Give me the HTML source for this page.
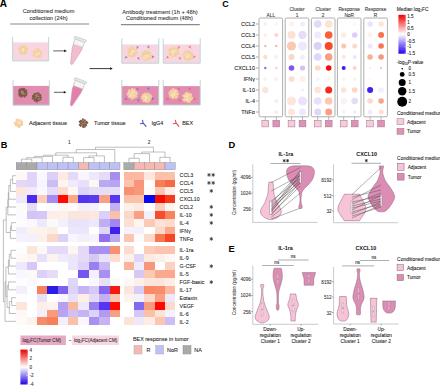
<!DOCTYPE html>
<html><head><meta charset="utf-8"><title>Figure</title>
<style>
html,body{margin:0;padding:0;background:#fff;width:440px;height:386px;overflow:hidden;}
svg{display:block;font-family:"Liberation Sans", sans-serif;}
</style></head><body>
<svg width="440" height="386" viewBox="0 0 440 386">
<text x="-0.30" y="6.60" font-size="10.0" text-anchor="start" font-weight="bold" fill="#000" stroke="#000" stroke-width="0" >A</text>
<text x="48.60" y="13.33" font-size="5.65" text-anchor="middle" font-weight="normal" fill="#333" stroke="#333" stroke-width="0.08" >Conditioned medium</text>
<text x="48.60" y="19.63" font-size="5.65" text-anchor="middle" font-weight="normal" fill="#333" stroke="#333" stroke-width="0.08" >collection (24h)</text>
<line x1="10.20" y1="24.00" x2="89.10" y2="24.00" stroke="#8a8a8a" stroke-width="1.1"/>
<text x="160.00" y="13.95" font-size="5.7" text-anchor="middle" font-weight="normal" fill="#333" stroke="#333" stroke-width="0.08" >Antibody treatment (1h + 48h)</text>
<text x="159.50" y="20.15" font-size="5.7" text-anchor="middle" font-weight="normal" fill="#333" stroke="#333" stroke-width="0.08" >Conditioned medium (48h)</text>
<line x1="120.90" y1="24.60" x2="199.80" y2="24.60" stroke="#8a8a8a" stroke-width="1.1"/>
<rect x="12.60" y="42.40" width="36.00" height="18.50" fill="#f8d6e1" stroke="none" stroke-width="0" />
<path d="M12.60,36.90 L12.60,60.90 L48.60,60.90 L48.60,36.90" fill="none" stroke="#b9d3d3" stroke-width="0.9"/>
<circle cx="23.20" cy="50.00" r="3.68" fill="#f4cfa0"/>
<circle cx="27.23" cy="49.43" r="1.15" fill="#f4cfa0"/>
<circle cx="26.31" cy="52.29" r="1.15" fill="#f4cfa0"/>
<circle cx="24.79" cy="53.92" r="1.15" fill="#f4cfa0"/>
<circle cx="22.12" cy="53.60" r="1.15" fill="#f4cfa0"/>
<circle cx="20.79" cy="53.36" r="1.15" fill="#f4cfa0"/>
<circle cx="19.73" cy="51.11" r="1.15" fill="#f4cfa0"/>
<circle cx="19.03" cy="48.96" r="1.15" fill="#f4cfa0"/>
<circle cx="20.52" cy="47.20" r="1.15" fill="#f4cfa0"/>
<circle cx="22.70" cy="46.19" r="1.15" fill="#f4cfa0"/>
<circle cx="24.69" cy="46.09" r="1.15" fill="#f4cfa0"/>
<circle cx="26.17" cy="47.67" r="1.15" fill="#f4cfa0"/>
<circle cx="22.95" cy="50.77" r="0.78" fill="#fbe6c8" opacity="0.8"/>
<circle cx="23.31" cy="49.30" r="0.78" fill="#fbe6c8" opacity="0.8"/>
<circle cx="23.33" cy="48.78" r="0.78" fill="#fbe6c8" opacity="0.8"/>
<circle cx="22.95" cy="49.50" r="0.78" fill="#fbe6c8" opacity="0.8"/>
<circle cx="22.68" cy="51.57" r="0.78" fill="#fbe6c8" opacity="0.8"/>
<circle cx="23.56" cy="50.72" r="0.78" fill="#fbe6c8" opacity="0.8"/>
<circle cx="23.06" cy="49.91" r="0.78" fill="#fbe6c8" opacity="0.8"/>
<circle cx="22.84" cy="49.92" r="0.78" fill="#fbe6c8" opacity="0.8"/>
<circle cx="22.97" cy="48.57" r="0.78" fill="#fbe6c8" opacity="0.8"/>
<circle cx="37.40" cy="53.60" r="3.68" fill="#f4cfa0"/>
<circle cx="41.68" cy="53.37" r="1.15" fill="#f4cfa0"/>
<circle cx="40.44" cy="56.15" r="1.15" fill="#f4cfa0"/>
<circle cx="39.12" cy="57.18" r="1.15" fill="#f4cfa0"/>
<circle cx="37.42" cy="57.32" r="1.15" fill="#f4cfa0"/>
<circle cx="34.59" cy="56.38" r="1.15" fill="#f4cfa0"/>
<circle cx="33.53" cy="55.17" r="1.15" fill="#f4cfa0"/>
<circle cx="33.76" cy="51.97" r="1.15" fill="#f4cfa0"/>
<circle cx="35.40" cy="50.50" r="1.15" fill="#f4cfa0"/>
<circle cx="37.35" cy="49.41" r="1.15" fill="#f4cfa0"/>
<circle cx="38.66" cy="49.65" r="1.15" fill="#f4cfa0"/>
<circle cx="41.12" cy="51.73" r="1.15" fill="#f4cfa0"/>
<circle cx="37.72" cy="54.64" r="0.78" fill="#fbe6c8" opacity="0.8"/>
<circle cx="37.01" cy="55.84" r="0.78" fill="#fbe6c8" opacity="0.8"/>
<circle cx="39.48" cy="54.02" r="0.78" fill="#fbe6c8" opacity="0.8"/>
<circle cx="36.10" cy="53.37" r="0.78" fill="#fbe6c8" opacity="0.8"/>
<circle cx="36.25" cy="50.75" r="0.78" fill="#fbe6c8" opacity="0.8"/>
<circle cx="39.24" cy="53.07" r="0.78" fill="#fbe6c8" opacity="0.8"/>
<circle cx="38.02" cy="52.76" r="0.78" fill="#fbe6c8" opacity="0.8"/>
<circle cx="37.83" cy="53.47" r="0.78" fill="#fbe6c8" opacity="0.8"/>
<circle cx="35.69" cy="55.13" r="0.78" fill="#fbe6c8" opacity="0.8"/>
<line x1="53.20" y1="50.90" x2="64.80" y2="50.90" stroke="#222" stroke-width="0.7"/>
<path d="M66.80,50.90 L64.20,49.60 L64.20,52.20Z" fill="#111"/>
<g transform="translate(76.30,50.40) rotate(19.5) scale(1.1)">
<path d="M-4.6,-8 L4.6,-8 L4.3,-1 L1.0,12.8 Q0,14.4 -1.0,12.8 L-4.3,-1 Z" fill="#f2bdd0" stroke="#c79aae" stroke-width="0.45"/>
<path d="M-4.6,-9.6 L4.6,-9.6 L4.5,-4.6 L-4.5,-4.6 Z" fill="#f4f6f6" stroke="#c4caca" stroke-width="0.45"/>
<rect x="-5.6" y="-11.8" width="11.2" height="2.3" rx="0.5" fill="#e4e8e9" stroke="#b5bcbe" stroke-width="0.45"/>
</g>
<rect x="13.00" y="85.90" width="36.30" height="19.30" fill="#e08db0" stroke="none" stroke-width="0" />
<path d="M13.00,80.20 L13.00,105.20 L49.30,105.20 L49.30,80.20" fill="none" stroke="#b9d3d3" stroke-width="0.9"/>
<circle cx="22.70" cy="92.70" r="3.68" fill="#7e5846"/>
<circle cx="26.40" cy="92.98" r="1.15" fill="#7e5846"/>
<circle cx="26.21" cy="95.03" r="1.15" fill="#7e5846"/>
<circle cx="24.65" cy="96.43" r="1.15" fill="#7e5846"/>
<circle cx="21.56" cy="96.58" r="1.15" fill="#7e5846"/>
<circle cx="19.66" cy="95.69" r="1.15" fill="#7e5846"/>
<circle cx="19.17" cy="93.75" r="1.15" fill="#7e5846"/>
<circle cx="19.16" cy="91.10" r="1.15" fill="#7e5846"/>
<circle cx="19.90" cy="89.69" r="1.15" fill="#7e5846"/>
<circle cx="21.81" cy="88.96" r="1.15" fill="#7e5846"/>
<circle cx="24.12" cy="88.88" r="1.15" fill="#7e5846"/>
<circle cx="26.21" cy="90.58" r="1.15" fill="#7e5846"/>
<circle cx="21.88" cy="91.28" r="0.78" fill="#b8947c" opacity="0.8"/>
<circle cx="22.90" cy="92.71" r="0.78" fill="#b8947c" opacity="0.8"/>
<circle cx="21.90" cy="93.38" r="0.78" fill="#b8947c" opacity="0.8"/>
<circle cx="23.46" cy="94.11" r="0.78" fill="#b8947c" opacity="0.8"/>
<circle cx="21.88" cy="91.27" r="0.78" fill="#b8947c" opacity="0.8"/>
<circle cx="23.07" cy="92.73" r="0.78" fill="#b8947c" opacity="0.8"/>
<circle cx="22.89" cy="91.91" r="0.78" fill="#b8947c" opacity="0.8"/>
<circle cx="24.92" cy="94.02" r="0.78" fill="#b8947c" opacity="0.8"/>
<circle cx="21.30" cy="91.82" r="0.78" fill="#b8947c" opacity="0.8"/>
<circle cx="36.80" cy="97.30" r="3.68" fill="#7e5846"/>
<circle cx="40.85" cy="97.42" r="1.15" fill="#7e5846"/>
<circle cx="40.39" cy="99.45" r="1.15" fill="#7e5846"/>
<circle cx="38.52" cy="100.47" r="1.15" fill="#7e5846"/>
<circle cx="36.72" cy="101.47" r="1.15" fill="#7e5846"/>
<circle cx="34.81" cy="100.38" r="1.15" fill="#7e5846"/>
<circle cx="32.91" cy="98.47" r="1.15" fill="#7e5846"/>
<circle cx="33.01" cy="96.26" r="1.15" fill="#7e5846"/>
<circle cx="34.38" cy="94.28" r="1.15" fill="#7e5846"/>
<circle cx="36.16" cy="93.77" r="1.15" fill="#7e5846"/>
<circle cx="38.39" cy="93.32" r="1.15" fill="#7e5846"/>
<circle cx="40.24" cy="95.18" r="1.15" fill="#7e5846"/>
<circle cx="35.50" cy="98.02" r="0.78" fill="#b8947c" opacity="0.8"/>
<circle cx="36.71" cy="96.84" r="0.78" fill="#b8947c" opacity="0.8"/>
<circle cx="39.65" cy="98.54" r="0.78" fill="#b8947c" opacity="0.8"/>
<circle cx="37.51" cy="94.91" r="0.78" fill="#b8947c" opacity="0.8"/>
<circle cx="38.28" cy="96.71" r="0.78" fill="#b8947c" opacity="0.8"/>
<circle cx="35.70" cy="95.48" r="0.78" fill="#b8947c" opacity="0.8"/>
<circle cx="38.57" cy="96.45" r="0.78" fill="#b8947c" opacity="0.8"/>
<circle cx="36.47" cy="94.93" r="0.78" fill="#b8947c" opacity="0.8"/>
<circle cx="38.41" cy="99.33" r="0.78" fill="#b8947c" opacity="0.8"/>
<line x1="53.90" y1="92.30" x2="64.40" y2="92.30" stroke="#222" stroke-width="0.7"/>
<path d="M66.40,92.30 L63.80,91.00 L63.80,93.60Z" fill="#111"/>
<g transform="translate(76.30,91.90) rotate(20.5) scale(1.1)">
<path d="M-4.6,-8 L4.6,-8 L4.3,-1 L1.0,12.8 Q0,14.4 -1.0,12.8 L-4.3,-1 Z" fill="#e27fab" stroke="#c79aae" stroke-width="0.45"/>
<path d="M-4.6,-9.6 L4.6,-9.6 L4.5,-4.6 L-4.5,-4.6 Z" fill="#f4f6f6" stroke="#c4caca" stroke-width="0.45"/>
<rect x="-5.6" y="-11.8" width="11.2" height="2.3" rx="0.5" fill="#e4e8e9" stroke="#b5bcbe" stroke-width="0.45"/>
</g>
<line x1="89.50" y1="68.60" x2="110.70" y2="68.60" stroke="#222" stroke-width="0.9"/>
<path d="M112.70,68.60 L110.10,67.30 L110.10,69.90Z" fill="#111"/>
<rect x="121.80" y="44.40" width="37.00" height="18.80" fill="#f8d6e1" stroke="none" stroke-width="0" />
<path d="M121.80,38.20 L121.80,63.20 L158.80,63.20 L158.80,38.20" fill="none" stroke="#b9d3d3" stroke-width="0.9"/>
<circle cx="132.30" cy="52.00" r="4.00" fill="#f4cfa0"/>
<circle cx="136.44" cy="52.38" r="1.25" fill="#f4cfa0"/>
<circle cx="135.51" cy="54.28" r="1.25" fill="#f4cfa0"/>
<circle cx="134.25" cy="55.97" r="1.25" fill="#f4cfa0"/>
<circle cx="131.39" cy="56.48" r="1.25" fill="#f4cfa0"/>
<circle cx="129.43" cy="55.27" r="1.25" fill="#f4cfa0"/>
<circle cx="128.39" cy="53.53" r="1.25" fill="#f4cfa0"/>
<circle cx="128.44" cy="50.26" r="1.25" fill="#f4cfa0"/>
<circle cx="129.44" cy="49.01" r="1.25" fill="#f4cfa0"/>
<circle cx="131.59" cy="47.36" r="1.25" fill="#f4cfa0"/>
<circle cx="133.63" cy="47.63" r="1.25" fill="#f4cfa0"/>
<circle cx="135.96" cy="50.20" r="1.25" fill="#f4cfa0"/>
<circle cx="131.24" cy="53.46" r="0.85" fill="#fbe6c8" opacity="0.8"/>
<circle cx="131.46" cy="54.36" r="0.85" fill="#fbe6c8" opacity="0.8"/>
<circle cx="133.34" cy="52.20" r="0.85" fill="#fbe6c8" opacity="0.8"/>
<circle cx="132.55" cy="51.61" r="0.85" fill="#fbe6c8" opacity="0.8"/>
<circle cx="133.28" cy="51.26" r="0.85" fill="#fbe6c8" opacity="0.8"/>
<circle cx="132.59" cy="50.87" r="0.85" fill="#fbe6c8" opacity="0.8"/>
<circle cx="132.29" cy="52.02" r="0.85" fill="#fbe6c8" opacity="0.8"/>
<circle cx="130.27" cy="54.24" r="0.85" fill="#fbe6c8" opacity="0.8"/>
<circle cx="135.39" cy="51.03" r="0.85" fill="#fbe6c8" opacity="0.8"/>
<circle cx="146.40" cy="55.70" r="4.00" fill="#f4cfa0"/>
<circle cx="151.00" cy="56.33" r="1.25" fill="#f4cfa0"/>
<circle cx="149.76" cy="57.84" r="1.25" fill="#f4cfa0"/>
<circle cx="147.86" cy="59.39" r="1.25" fill="#f4cfa0"/>
<circle cx="145.49" cy="59.87" r="1.25" fill="#f4cfa0"/>
<circle cx="143.33" cy="58.38" r="1.25" fill="#f4cfa0"/>
<circle cx="142.07" cy="56.45" r="1.25" fill="#f4cfa0"/>
<circle cx="142.65" cy="54.12" r="1.25" fill="#f4cfa0"/>
<circle cx="143.26" cy="53.00" r="1.25" fill="#f4cfa0"/>
<circle cx="145.54" cy="51.18" r="1.25" fill="#f4cfa0"/>
<circle cx="148.19" cy="51.39" r="1.25" fill="#f4cfa0"/>
<circle cx="150.02" cy="53.34" r="1.25" fill="#f4cfa0"/>
<circle cx="149.09" cy="55.01" r="0.85" fill="#fbe6c8" opacity="0.8"/>
<circle cx="143.60" cy="57.51" r="0.85" fill="#fbe6c8" opacity="0.8"/>
<circle cx="144.17" cy="58.09" r="0.85" fill="#fbe6c8" opacity="0.8"/>
<circle cx="148.54" cy="56.57" r="0.85" fill="#fbe6c8" opacity="0.8"/>
<circle cx="146.31" cy="55.80" r="0.85" fill="#fbe6c8" opacity="0.8"/>
<circle cx="145.47" cy="55.57" r="0.85" fill="#fbe6c8" opacity="0.8"/>
<circle cx="147.26" cy="55.82" r="0.85" fill="#fbe6c8" opacity="0.8"/>
<circle cx="146.22" cy="57.40" r="0.85" fill="#fbe6c8" opacity="0.8"/>
<circle cx="145.90" cy="58.39" r="0.85" fill="#fbe6c8" opacity="0.8"/>
<g transform="translate(137.30,47.50) rotate(20)"><path d="M0,1.0 L0,0 L-0.9,-0.9 M0,0 L0.9,-0.9" stroke="#6f6cc0" stroke-width="0.75" fill="none" stroke-linecap="round" opacity="0.85"/></g>
<g transform="translate(148.60,47.10) rotate(-30)"><path d="M0,1.0 L0,0 L-0.9,-0.9 M0,0 L0.9,-0.9" stroke="#6f6cc0" stroke-width="0.75" fill="none" stroke-linecap="round" opacity="0.85"/></g>
<g transform="translate(125.90,57.50) rotate(40)"><path d="M0,1.0 L0,0 L-0.9,-0.9 M0,0 L0.9,-0.9" stroke="#6f6cc0" stroke-width="0.75" fill="none" stroke-linecap="round" opacity="0.85"/></g>
<g transform="translate(138.60,58.50) rotate(-20)"><path d="M0,1.0 L0,0 L-0.9,-0.9 M0,0 L0.9,-0.9" stroke="#6f6cc0" stroke-width="0.75" fill="none" stroke-linecap="round" opacity="0.85"/></g>
<g transform="translate(152.70,57.10) rotate(30)"><path d="M0,1.0 L0,0 L-0.9,-0.9 M0,0 L0.9,-0.9" stroke="#6f6cc0" stroke-width="0.75" fill="none" stroke-linecap="round" opacity="0.85"/></g>
<rect x="163.20" y="44.40" width="37.00" height="18.80" fill="#f8d6e1" stroke="none" stroke-width="0" />
<path d="M163.20,38.20 L163.20,63.20 L200.20,63.20 L200.20,38.20" fill="none" stroke="#b9d3d3" stroke-width="0.9"/>
<circle cx="173.70" cy="52.00" r="4.00" fill="#f4cfa0"/>
<circle cx="178.36" cy="52.31" r="1.25" fill="#f4cfa0"/>
<circle cx="177.91" cy="53.91" r="1.25" fill="#f4cfa0"/>
<circle cx="175.41" cy="55.79" r="1.25" fill="#f4cfa0"/>
<circle cx="172.94" cy="56.16" r="1.25" fill="#f4cfa0"/>
<circle cx="170.38" cy="55.33" r="1.25" fill="#f4cfa0"/>
<circle cx="169.59" cy="53.76" r="1.25" fill="#f4cfa0"/>
<circle cx="169.33" cy="50.21" r="1.25" fill="#f4cfa0"/>
<circle cx="170.31" cy="48.97" r="1.25" fill="#f4cfa0"/>
<circle cx="173.12" cy="47.39" r="1.25" fill="#f4cfa0"/>
<circle cx="175.95" cy="48.16" r="1.25" fill="#f4cfa0"/>
<circle cx="177.61" cy="49.51" r="1.25" fill="#f4cfa0"/>
<circle cx="175.21" cy="50.28" r="0.85" fill="#fbe6c8" opacity="0.8"/>
<circle cx="173.24" cy="52.16" r="0.85" fill="#fbe6c8" opacity="0.8"/>
<circle cx="171.97" cy="51.69" r="0.85" fill="#fbe6c8" opacity="0.8"/>
<circle cx="172.98" cy="54.57" r="0.85" fill="#fbe6c8" opacity="0.8"/>
<circle cx="172.71" cy="49.92" r="0.85" fill="#fbe6c8" opacity="0.8"/>
<circle cx="172.85" cy="52.97" r="0.85" fill="#fbe6c8" opacity="0.8"/>
<circle cx="175.51" cy="51.24" r="0.85" fill="#fbe6c8" opacity="0.8"/>
<circle cx="173.73" cy="52.08" r="0.85" fill="#fbe6c8" opacity="0.8"/>
<circle cx="172.66" cy="52.25" r="0.85" fill="#fbe6c8" opacity="0.8"/>
<circle cx="187.80" cy="55.70" r="4.00" fill="#f4cfa0"/>
<circle cx="192.07" cy="55.17" r="1.25" fill="#f4cfa0"/>
<circle cx="192.03" cy="57.76" r="1.25" fill="#f4cfa0"/>
<circle cx="189.37" cy="59.28" r="1.25" fill="#f4cfa0"/>
<circle cx="187.55" cy="59.89" r="1.25" fill="#f4cfa0"/>
<circle cx="185.37" cy="58.86" r="1.25" fill="#f4cfa0"/>
<circle cx="184.07" cy="56.88" r="1.25" fill="#f4cfa0"/>
<circle cx="183.43" cy="54.42" r="1.25" fill="#f4cfa0"/>
<circle cx="185.02" cy="52.57" r="1.25" fill="#f4cfa0"/>
<circle cx="187.20" cy="51.06" r="1.25" fill="#f4cfa0"/>
<circle cx="189.31" cy="52.03" r="1.25" fill="#f4cfa0"/>
<circle cx="191.54" cy="53.19" r="1.25" fill="#f4cfa0"/>
<circle cx="185.12" cy="54.53" r="0.85" fill="#fbe6c8" opacity="0.8"/>
<circle cx="186.94" cy="53.46" r="0.85" fill="#fbe6c8" opacity="0.8"/>
<circle cx="187.30" cy="57.55" r="0.85" fill="#fbe6c8" opacity="0.8"/>
<circle cx="189.10" cy="54.66" r="0.85" fill="#fbe6c8" opacity="0.8"/>
<circle cx="187.90" cy="55.78" r="0.85" fill="#fbe6c8" opacity="0.8"/>
<circle cx="189.11" cy="56.65" r="0.85" fill="#fbe6c8" opacity="0.8"/>
<circle cx="186.94" cy="56.10" r="0.85" fill="#fbe6c8" opacity="0.8"/>
<circle cx="186.39" cy="57.16" r="0.85" fill="#fbe6c8" opacity="0.8"/>
<circle cx="189.81" cy="56.03" r="0.85" fill="#fbe6c8" opacity="0.8"/>
<g transform="translate(178.70,47.50) rotate(20)"><path d="M0,1.0 L0,0 L-0.9,-0.9 M0,0 L0.9,-0.9" stroke="#e0606e" stroke-width="0.75" fill="none" stroke-linecap="round" opacity="0.85"/></g>
<g transform="translate(190.00,47.10) rotate(-30)"><path d="M0,1.0 L0,0 L-0.9,-0.9 M0,0 L0.9,-0.9" stroke="#e0606e" stroke-width="0.75" fill="none" stroke-linecap="round" opacity="0.85"/></g>
<g transform="translate(167.30,57.50) rotate(40)"><path d="M0,1.0 L0,0 L-0.9,-0.9 M0,0 L0.9,-0.9" stroke="#e0606e" stroke-width="0.75" fill="none" stroke-linecap="round" opacity="0.85"/></g>
<g transform="translate(180.00,58.50) rotate(-20)"><path d="M0,1.0 L0,0 L-0.9,-0.9 M0,0 L0.9,-0.9" stroke="#e0606e" stroke-width="0.75" fill="none" stroke-linecap="round" opacity="0.85"/></g>
<g transform="translate(194.10,57.10) rotate(30)"><path d="M0,1.0 L0,0 L-0.9,-0.9 M0,0 L0.9,-0.9" stroke="#e0606e" stroke-width="0.75" fill="none" stroke-linecap="round" opacity="0.85"/></g>
<rect x="121.80" y="86.10" width="37.00" height="18.90" fill="#e08db0" stroke="none" stroke-width="0" />
<path d="M121.80,80.00 L121.80,105.00 L158.80,105.00 L158.80,80.00" fill="none" stroke="#b9d3d3" stroke-width="0.9"/>
<circle cx="132.30" cy="93.80" r="4.00" fill="#f4cfa0"/>
<circle cx="136.79" cy="93.63" r="1.25" fill="#f4cfa0"/>
<circle cx="136.09" cy="96.26" r="1.25" fill="#f4cfa0"/>
<circle cx="134.11" cy="97.56" r="1.25" fill="#f4cfa0"/>
<circle cx="131.90" cy="98.52" r="1.25" fill="#f4cfa0"/>
<circle cx="129.27" cy="96.71" r="1.25" fill="#f4cfa0"/>
<circle cx="127.88" cy="94.42" r="1.25" fill="#f4cfa0"/>
<circle cx="128.48" cy="92.91" r="1.25" fill="#f4cfa0"/>
<circle cx="129.05" cy="90.47" r="1.25" fill="#f4cfa0"/>
<circle cx="132.16" cy="89.31" r="1.25" fill="#f4cfa0"/>
<circle cx="134.30" cy="89.79" r="1.25" fill="#f4cfa0"/>
<circle cx="136.17" cy="91.68" r="1.25" fill="#f4cfa0"/>
<circle cx="132.06" cy="94.16" r="0.85" fill="#fbe6c8" opacity="0.8"/>
<circle cx="130.97" cy="94.84" r="0.85" fill="#fbe6c8" opacity="0.8"/>
<circle cx="133.96" cy="95.12" r="0.85" fill="#fbe6c8" opacity="0.8"/>
<circle cx="133.25" cy="91.29" r="0.85" fill="#fbe6c8" opacity="0.8"/>
<circle cx="130.62" cy="96.87" r="0.85" fill="#fbe6c8" opacity="0.8"/>
<circle cx="130.46" cy="95.80" r="0.85" fill="#fbe6c8" opacity="0.8"/>
<circle cx="129.28" cy="92.45" r="0.85" fill="#fbe6c8" opacity="0.8"/>
<circle cx="133.92" cy="92.12" r="0.85" fill="#fbe6c8" opacity="0.8"/>
<circle cx="132.59" cy="92.26" r="0.85" fill="#fbe6c8" opacity="0.8"/>
<circle cx="146.40" cy="97.50" r="4.00" fill="#f4cfa0"/>
<circle cx="151.11" cy="97.22" r="1.25" fill="#f4cfa0"/>
<circle cx="149.67" cy="99.63" r="1.25" fill="#f4cfa0"/>
<circle cx="148.31" cy="101.74" r="1.25" fill="#f4cfa0"/>
<circle cx="145.98" cy="101.56" r="1.25" fill="#f4cfa0"/>
<circle cx="143.68" cy="101.10" r="1.25" fill="#f4cfa0"/>
<circle cx="142.22" cy="98.52" r="1.25" fill="#f4cfa0"/>
<circle cx="142.25" cy="96.68" r="1.25" fill="#f4cfa0"/>
<circle cx="143.40" cy="94.65" r="1.25" fill="#f4cfa0"/>
<circle cx="145.32" cy="93.67" r="1.25" fill="#f4cfa0"/>
<circle cx="147.81" cy="93.81" r="1.25" fill="#f4cfa0"/>
<circle cx="150.28" cy="95.36" r="1.25" fill="#f4cfa0"/>
<circle cx="146.38" cy="97.51" r="0.85" fill="#fbe6c8" opacity="0.8"/>
<circle cx="145.70" cy="99.43" r="0.85" fill="#fbe6c8" opacity="0.8"/>
<circle cx="146.17" cy="97.55" r="0.85" fill="#fbe6c8" opacity="0.8"/>
<circle cx="146.19" cy="96.57" r="0.85" fill="#fbe6c8" opacity="0.8"/>
<circle cx="145.31" cy="100.03" r="0.85" fill="#fbe6c8" opacity="0.8"/>
<circle cx="146.50" cy="97.21" r="0.85" fill="#fbe6c8" opacity="0.8"/>
<circle cx="145.72" cy="97.73" r="0.85" fill="#fbe6c8" opacity="0.8"/>
<circle cx="144.47" cy="96.13" r="0.85" fill="#fbe6c8" opacity="0.8"/>
<circle cx="143.46" cy="96.46" r="0.85" fill="#fbe6c8" opacity="0.8"/>
<g transform="translate(137.30,89.30) rotate(20)"><path d="M0,1.0 L0,0 L-0.9,-0.9 M0,0 L0.9,-0.9" stroke="#6f6cc0" stroke-width="0.75" fill="none" stroke-linecap="round" opacity="0.85"/></g>
<g transform="translate(148.60,88.90) rotate(-30)"><path d="M0,1.0 L0,0 L-0.9,-0.9 M0,0 L0.9,-0.9" stroke="#6f6cc0" stroke-width="0.75" fill="none" stroke-linecap="round" opacity="0.85"/></g>
<g transform="translate(125.90,99.30) rotate(40)"><path d="M0,1.0 L0,0 L-0.9,-0.9 M0,0 L0.9,-0.9" stroke="#6f6cc0" stroke-width="0.75" fill="none" stroke-linecap="round" opacity="0.85"/></g>
<g transform="translate(138.60,100.30) rotate(-20)"><path d="M0,1.0 L0,0 L-0.9,-0.9 M0,0 L0.9,-0.9" stroke="#6f6cc0" stroke-width="0.75" fill="none" stroke-linecap="round" opacity="0.85"/></g>
<g transform="translate(152.70,98.90) rotate(30)"><path d="M0,1.0 L0,0 L-0.9,-0.9 M0,0 L0.9,-0.9" stroke="#6f6cc0" stroke-width="0.75" fill="none" stroke-linecap="round" opacity="0.85"/></g>
<rect x="163.20" y="86.10" width="37.00" height="18.90" fill="#e08db0" stroke="none" stroke-width="0" />
<path d="M163.20,80.00 L163.20,105.00 L200.20,105.00 L200.20,80.00" fill="none" stroke="#b9d3d3" stroke-width="0.9"/>
<circle cx="173.70" cy="93.80" r="4.00" fill="#f4cfa0"/>
<circle cx="177.80" cy="94.01" r="1.25" fill="#f4cfa0"/>
<circle cx="176.99" cy="96.43" r="1.25" fill="#f4cfa0"/>
<circle cx="175.79" cy="97.76" r="1.25" fill="#f4cfa0"/>
<circle cx="172.67" cy="97.96" r="1.25" fill="#f4cfa0"/>
<circle cx="170.60" cy="96.51" r="1.25" fill="#f4cfa0"/>
<circle cx="169.80" cy="94.59" r="1.25" fill="#f4cfa0"/>
<circle cx="169.62" cy="92.58" r="1.25" fill="#f4cfa0"/>
<circle cx="171.14" cy="90.76" r="1.25" fill="#f4cfa0"/>
<circle cx="173.32" cy="89.20" r="1.25" fill="#f4cfa0"/>
<circle cx="175.31" cy="90.13" r="1.25" fill="#f4cfa0"/>
<circle cx="177.11" cy="91.03" r="1.25" fill="#f4cfa0"/>
<circle cx="174.41" cy="94.47" r="0.85" fill="#fbe6c8" opacity="0.8"/>
<circle cx="174.22" cy="93.02" r="0.85" fill="#fbe6c8" opacity="0.8"/>
<circle cx="172.85" cy="93.81" r="0.85" fill="#fbe6c8" opacity="0.8"/>
<circle cx="172.01" cy="95.00" r="0.85" fill="#fbe6c8" opacity="0.8"/>
<circle cx="171.88" cy="95.22" r="0.85" fill="#fbe6c8" opacity="0.8"/>
<circle cx="173.90" cy="94.53" r="0.85" fill="#fbe6c8" opacity="0.8"/>
<circle cx="174.04" cy="94.33" r="0.85" fill="#fbe6c8" opacity="0.8"/>
<circle cx="175.32" cy="91.99" r="0.85" fill="#fbe6c8" opacity="0.8"/>
<circle cx="172.75" cy="97.00" r="0.85" fill="#fbe6c8" opacity="0.8"/>
<circle cx="187.80" cy="97.50" r="4.00" fill="#f4cfa0"/>
<circle cx="192.43" cy="97.96" r="1.25" fill="#f4cfa0"/>
<circle cx="191.16" cy="99.53" r="1.25" fill="#f4cfa0"/>
<circle cx="189.37" cy="101.92" r="1.25" fill="#f4cfa0"/>
<circle cx="187.72" cy="101.46" r="1.25" fill="#f4cfa0"/>
<circle cx="184.46" cy="100.76" r="1.25" fill="#f4cfa0"/>
<circle cx="183.50" cy="99.42" r="1.25" fill="#f4cfa0"/>
<circle cx="183.36" cy="95.85" r="1.25" fill="#f4cfa0"/>
<circle cx="185.44" cy="94.12" r="1.25" fill="#f4cfa0"/>
<circle cx="186.90" cy="93.04" r="1.25" fill="#f4cfa0"/>
<circle cx="189.46" cy="93.81" r="1.25" fill="#f4cfa0"/>
<circle cx="190.91" cy="94.78" r="1.25" fill="#f4cfa0"/>
<circle cx="186.18" cy="99.27" r="0.85" fill="#fbe6c8" opacity="0.8"/>
<circle cx="186.51" cy="99.58" r="0.85" fill="#fbe6c8" opacity="0.8"/>
<circle cx="187.19" cy="96.96" r="0.85" fill="#fbe6c8" opacity="0.8"/>
<circle cx="188.43" cy="99.50" r="0.85" fill="#fbe6c8" opacity="0.8"/>
<circle cx="186.64" cy="95.16" r="0.85" fill="#fbe6c8" opacity="0.8"/>
<circle cx="188.43" cy="95.21" r="0.85" fill="#fbe6c8" opacity="0.8"/>
<circle cx="187.07" cy="96.94" r="0.85" fill="#fbe6c8" opacity="0.8"/>
<circle cx="184.67" cy="96.37" r="0.85" fill="#fbe6c8" opacity="0.8"/>
<circle cx="186.91" cy="99.76" r="0.85" fill="#fbe6c8" opacity="0.8"/>
<g transform="translate(178.70,89.30) rotate(20)"><path d="M0,1.0 L0,0 L-0.9,-0.9 M0,0 L0.9,-0.9" stroke="#e0606e" stroke-width="0.75" fill="none" stroke-linecap="round" opacity="0.85"/></g>
<g transform="translate(190.00,88.90) rotate(-30)"><path d="M0,1.0 L0,0 L-0.9,-0.9 M0,0 L0.9,-0.9" stroke="#e0606e" stroke-width="0.75" fill="none" stroke-linecap="round" opacity="0.85"/></g>
<g transform="translate(167.30,99.30) rotate(40)"><path d="M0,1.0 L0,0 L-0.9,-0.9 M0,0 L0.9,-0.9" stroke="#e0606e" stroke-width="0.75" fill="none" stroke-linecap="round" opacity="0.85"/></g>
<g transform="translate(180.00,100.30) rotate(-20)"><path d="M0,1.0 L0,0 L-0.9,-0.9 M0,0 L0.9,-0.9" stroke="#e0606e" stroke-width="0.75" fill="none" stroke-linecap="round" opacity="0.85"/></g>
<g transform="translate(194.10,98.90) rotate(30)"><path d="M0,1.0 L0,0 L-0.9,-0.9 M0,0 L0.9,-0.9" stroke="#e0606e" stroke-width="0.75" fill="none" stroke-linecap="round" opacity="0.85"/></g>
<circle cx="18.60" cy="123.30" r="3.36" fill="#f4cfa0"/>
<circle cx="22.23" cy="122.90" r="1.05" fill="#f4cfa0"/>
<circle cx="22.16" cy="124.92" r="1.05" fill="#f4cfa0"/>
<circle cx="19.83" cy="126.77" r="1.05" fill="#f4cfa0"/>
<circle cx="18.47" cy="127.08" r="1.05" fill="#f4cfa0"/>
<circle cx="16.02" cy="125.62" r="1.05" fill="#f4cfa0"/>
<circle cx="15.44" cy="124.40" r="1.05" fill="#f4cfa0"/>
<circle cx="14.71" cy="122.69" r="1.05" fill="#f4cfa0"/>
<circle cx="16.40" cy="120.15" r="1.05" fill="#f4cfa0"/>
<circle cx="17.64" cy="119.67" r="1.05" fill="#f4cfa0"/>
<circle cx="20.44" cy="120.01" r="1.05" fill="#f4cfa0"/>
<circle cx="21.64" cy="121.58" r="1.05" fill="#f4cfa0"/>
<circle cx="20.19" cy="122.79" r="0.71" fill="#fbe6c8" opacity="0.8"/>
<circle cx="19.49" cy="122.98" r="0.71" fill="#fbe6c8" opacity="0.8"/>
<circle cx="19.91" cy="123.83" r="0.71" fill="#fbe6c8" opacity="0.8"/>
<circle cx="18.65" cy="123.33" r="0.71" fill="#fbe6c8" opacity="0.8"/>
<circle cx="19.62" cy="123.08" r="0.71" fill="#fbe6c8" opacity="0.8"/>
<circle cx="18.44" cy="123.27" r="0.71" fill="#fbe6c8" opacity="0.8"/>
<circle cx="17.99" cy="121.09" r="0.71" fill="#fbe6c8" opacity="0.8"/>
<circle cx="17.31" cy="121.89" r="0.71" fill="#fbe6c8" opacity="0.8"/>
<circle cx="19.68" cy="121.44" r="0.71" fill="#fbe6c8" opacity="0.8"/>
<text x="28.90" y="124.93" font-size="5.65" text-anchor="start" font-weight="normal" fill="#222" stroke="#222" stroke-width="0.08" >Adjacent tissue</text>
<circle cx="83.40" cy="123.30" r="3.36" fill="#7e5846"/>
<circle cx="87.22" cy="122.85" r="1.05" fill="#7e5846"/>
<circle cx="86.20" cy="125.31" r="1.05" fill="#7e5846"/>
<circle cx="84.81" cy="126.74" r="1.05" fill="#7e5846"/>
<circle cx="83.17" cy="126.91" r="1.05" fill="#7e5846"/>
<circle cx="80.64" cy="125.86" r="1.05" fill="#7e5846"/>
<circle cx="79.76" cy="124.76" r="1.05" fill="#7e5846"/>
<circle cx="79.75" cy="121.87" r="1.05" fill="#7e5846"/>
<circle cx="80.76" cy="120.83" r="1.05" fill="#7e5846"/>
<circle cx="82.86" cy="119.37" r="1.05" fill="#7e5846"/>
<circle cx="84.81" cy="120.21" r="1.05" fill="#7e5846"/>
<circle cx="86.48" cy="121.92" r="1.05" fill="#7e5846"/>
<circle cx="83.38" cy="120.58" r="0.71" fill="#b8947c" opacity="0.8"/>
<circle cx="84.99" cy="125.66" r="0.71" fill="#b8947c" opacity="0.8"/>
<circle cx="82.56" cy="125.35" r="0.71" fill="#b8947c" opacity="0.8"/>
<circle cx="84.91" cy="121.72" r="0.71" fill="#b8947c" opacity="0.8"/>
<circle cx="81.99" cy="123.03" r="0.71" fill="#b8947c" opacity="0.8"/>
<circle cx="84.98" cy="121.72" r="0.71" fill="#b8947c" opacity="0.8"/>
<circle cx="85.05" cy="123.17" r="0.71" fill="#b8947c" opacity="0.8"/>
<circle cx="83.42" cy="123.35" r="0.71" fill="#b8947c" opacity="0.8"/>
<circle cx="81.78" cy="124.70" r="0.71" fill="#b8947c" opacity="0.8"/>
<text x="94.00" y="124.68" font-size="5.5" text-anchor="start" font-weight="normal" fill="#222" stroke="#222" stroke-width="0.08" >Tumor tissue</text>
<path d="M146.0,126.3 L143.2,123.2 L140.4,123.7 M143.2,123.2 L142.5,120.3" stroke="#4a58b0" stroke-width="1.15" fill="none" stroke-linecap="round" stroke-linejoin="round"/>
<text x="151.40" y="124.68" font-size="5.5" text-anchor="start" font-weight="normal" fill="#222" stroke="#222" stroke-width="0.08" >IgG4</text>
<path d="M178.9,126.3 L176.1,123.2 L173.3,123.7 M176.1,123.2 L175.4,120.3" stroke="#e2505a" stroke-width="1.15" fill="none" stroke-linecap="round" stroke-linejoin="round"/>
<text x="182.20" y="124.68" font-size="5.5" text-anchor="start" font-weight="normal" fill="#222" stroke="#222" stroke-width="0.08" >BEX</text>
<text x="0.80" y="147.71" font-size="9.2" text-anchor="start" font-weight="bold" fill="#000" stroke="#000" stroke-width="0" >B</text>
<g shape-rendering="crispEdges">
<rect x="16.20" y="171.80" width="10.43" height="7.88" fill="#FDF8F5" stroke="none" stroke-width="0" />
<rect x="26.58" y="171.80" width="10.43" height="7.88" fill="#E0D4F8" stroke="none" stroke-width="0" />
<rect x="36.96" y="171.80" width="10.43" height="7.88" fill="#FAF8FF" stroke="none" stroke-width="0" />
<rect x="47.34" y="171.80" width="10.43" height="7.88" fill="#DDD0F8" stroke="none" stroke-width="0" />
<rect x="57.72" y="171.80" width="10.43" height="7.88" fill="#FDEBE3" stroke="none" stroke-width="0" />
<rect x="68.10" y="171.80" width="10.43" height="7.88" fill="#E3DAF8" stroke="none" stroke-width="0" />
<rect x="78.48" y="171.80" width="10.43" height="7.88" fill="#F8F5FE" stroke="none" stroke-width="0" />
<rect x="88.86" y="171.80" width="10.43" height="7.88" fill="#EEE8FB" stroke="none" stroke-width="0" />
<rect x="99.24" y="171.80" width="10.43" height="7.88" fill="#E5DCF8" stroke="none" stroke-width="0" />
<rect x="109.62" y="171.80" width="10.43" height="7.88" fill="#A88FEE" stroke="none" stroke-width="0" />
<rect x="123.80" y="171.80" width="10.35" height="7.88" fill="#FAB9A0" stroke="none" stroke-width="0" />
<rect x="134.10" y="171.80" width="10.35" height="7.88" fill="#FAB9A0" stroke="none" stroke-width="0" />
<rect x="144.40" y="171.80" width="10.35" height="7.88" fill="#FDE6DC" stroke="none" stroke-width="0" />
<rect x="154.70" y="171.80" width="10.35" height="7.88" fill="#FBC0A8" stroke="none" stroke-width="0" />
<rect x="165.00" y="171.80" width="10.35" height="7.88" fill="#FBC2AA" stroke="none" stroke-width="0" />
<rect x="16.20" y="179.63" width="10.43" height="7.88" fill="#E3D8F8" stroke="none" stroke-width="0" />
<rect x="26.58" y="179.63" width="10.43" height="7.88" fill="#E0D4F8" stroke="none" stroke-width="0" />
<rect x="36.96" y="179.63" width="10.43" height="7.88" fill="#F8F5FF" stroke="none" stroke-width="0" />
<rect x="47.34" y="179.63" width="10.43" height="7.88" fill="#CDBDF5" stroke="none" stroke-width="0" />
<rect x="57.72" y="179.63" width="10.43" height="7.88" fill="#FDF5F0" stroke="none" stroke-width="0" />
<rect x="68.10" y="179.63" width="10.43" height="7.88" fill="#F0EAFC" stroke="none" stroke-width="0" />
<rect x="78.48" y="179.63" width="10.43" height="7.88" fill="#E8DFFA" stroke="none" stroke-width="0" />
<rect x="88.86" y="179.63" width="10.43" height="7.88" fill="#FDF7F2" stroke="none" stroke-width="0" />
<rect x="99.24" y="179.63" width="10.43" height="7.88" fill="#BBA8F2" stroke="none" stroke-width="0" />
<rect x="109.62" y="179.63" width="10.43" height="7.88" fill="#B8A4F2" stroke="none" stroke-width="0" />
<rect x="123.80" y="179.63" width="10.35" height="7.88" fill="#FBC4AE" stroke="none" stroke-width="0" />
<rect x="134.10" y="179.63" width="10.35" height="7.88" fill="#F9957A" stroke="none" stroke-width="0" />
<rect x="144.40" y="179.63" width="10.35" height="7.88" fill="#FFFFFF" stroke="none" stroke-width="0" />
<rect x="154.70" y="179.63" width="10.35" height="7.88" fill="#F77C58" stroke="none" stroke-width="0" />
<rect x="165.00" y="179.63" width="10.35" height="7.88" fill="#F56A45" stroke="none" stroke-width="0" />
<rect x="16.20" y="187.46" width="10.43" height="7.88" fill="#FDE5DA" stroke="none" stroke-width="0" />
<rect x="26.58" y="187.46" width="10.43" height="7.88" fill="#F0EAFC" stroke="none" stroke-width="0" />
<rect x="36.96" y="187.46" width="10.43" height="7.88" fill="#FAF8FF" stroke="none" stroke-width="0" />
<rect x="47.34" y="187.46" width="10.43" height="7.88" fill="#E5DDF8" stroke="none" stroke-width="0" />
<rect x="57.72" y="187.46" width="10.43" height="7.88" fill="#FCDCCF" stroke="none" stroke-width="0" />
<rect x="68.10" y="187.46" width="10.43" height="7.88" fill="#FDF8F4" stroke="none" stroke-width="0" />
<rect x="78.48" y="187.46" width="10.43" height="7.88" fill="#DED3F8" stroke="none" stroke-width="0" />
<rect x="88.86" y="187.46" width="10.43" height="7.88" fill="#E6DEF8" stroke="none" stroke-width="0" />
<rect x="99.24" y="187.46" width="10.43" height="7.88" fill="#E6DEF8" stroke="none" stroke-width="0" />
<rect x="109.62" y="187.46" width="10.43" height="7.88" fill="#E8E0F8" stroke="none" stroke-width="0" />
<rect x="123.80" y="187.46" width="10.35" height="7.88" fill="#F8906F" stroke="none" stroke-width="0" />
<rect x="134.10" y="187.46" width="10.35" height="7.88" fill="#F8987A" stroke="none" stroke-width="0" />
<rect x="144.40" y="187.46" width="10.35" height="7.88" fill="#FFFBF9" stroke="none" stroke-width="0" />
<rect x="154.70" y="187.46" width="10.35" height="7.88" fill="#FBC7B3" stroke="none" stroke-width="0" />
<rect x="165.00" y="187.46" width="10.35" height="7.88" fill="#FDEDE6" stroke="none" stroke-width="0" />
<rect x="16.20" y="195.29" width="10.43" height="7.88" fill="#EDE8FA" stroke="none" stroke-width="0" />
<rect x="26.58" y="195.29" width="10.43" height="7.88" fill="#4A2BF0" stroke="none" stroke-width="0" />
<rect x="36.96" y="195.29" width="10.43" height="7.88" fill="#FBCDB8" stroke="none" stroke-width="0" />
<rect x="47.34" y="195.29" width="10.43" height="7.88" fill="#A58CF0" stroke="none" stroke-width="0" />
<rect x="57.72" y="195.29" width="10.43" height="7.88" fill="#FF0A00" stroke="none" stroke-width="0" />
<rect x="68.10" y="195.29" width="10.43" height="7.88" fill="#F9A88A" stroke="none" stroke-width="0" />
<rect x="78.48" y="195.29" width="10.43" height="7.88" fill="#5533F0" stroke="none" stroke-width="0" />
<rect x="88.86" y="195.29" width="10.43" height="7.88" fill="#5A3AF0" stroke="none" stroke-width="0" />
<rect x="99.24" y="195.29" width="10.43" height="7.88" fill="#F9A080" stroke="none" stroke-width="0" />
<rect x="109.62" y="195.29" width="10.43" height="7.88" fill="#5A38F0" stroke="none" stroke-width="0" />
<rect x="123.80" y="195.29" width="10.35" height="7.88" fill="#FBC0A8" stroke="none" stroke-width="0" />
<rect x="134.10" y="195.29" width="10.35" height="7.88" fill="#FBC2AA" stroke="none" stroke-width="0" />
<rect x="144.40" y="195.29" width="10.35" height="7.88" fill="#0A0AF0" stroke="none" stroke-width="0" />
<rect x="154.70" y="195.29" width="10.35" height="7.88" fill="#F80A00" stroke="none" stroke-width="0" />
<rect x="165.00" y="195.29" width="10.35" height="7.88" fill="#F53A1A" stroke="none" stroke-width="0" />
<rect x="16.20" y="203.12" width="10.43" height="7.88" fill="#FDFBFA" stroke="none" stroke-width="0" />
<rect x="26.58" y="203.12" width="10.43" height="7.88" fill="#E5DCF8" stroke="none" stroke-width="0" />
<rect x="36.96" y="203.12" width="10.43" height="7.88" fill="#FFFFFF" stroke="none" stroke-width="0" />
<rect x="47.34" y="203.12" width="10.43" height="7.88" fill="#FBFAFE" stroke="none" stroke-width="0" />
<rect x="57.72" y="203.12" width="10.43" height="7.88" fill="#FDF8F5" stroke="none" stroke-width="0" />
<rect x="68.10" y="203.12" width="10.43" height="7.88" fill="#FDFCFC" stroke="none" stroke-width="0" />
<rect x="78.48" y="203.12" width="10.43" height="7.88" fill="#F3F0FC" stroke="none" stroke-width="0" />
<rect x="88.86" y="203.12" width="10.43" height="7.88" fill="#F5F2FD" stroke="none" stroke-width="0" />
<rect x="99.24" y="203.12" width="10.43" height="7.88" fill="#FFFFFF" stroke="none" stroke-width="0" />
<rect x="109.62" y="203.12" width="10.43" height="7.88" fill="#C2B0F3" stroke="none" stroke-width="0" />
<rect x="123.80" y="203.12" width="10.35" height="7.88" fill="#FDF0EA" stroke="none" stroke-width="0" />
<rect x="134.10" y="203.12" width="10.35" height="7.88" fill="#FDEAE2" stroke="none" stroke-width="0" />
<rect x="144.40" y="203.12" width="10.35" height="7.88" fill="#FFFFFF" stroke="none" stroke-width="0" />
<rect x="154.70" y="203.12" width="10.35" height="7.88" fill="#FBD0BE" stroke="none" stroke-width="0" />
<rect x="165.00" y="203.12" width="10.35" height="7.88" fill="#FDF5F0" stroke="none" stroke-width="0" />
<rect x="16.20" y="210.95" width="10.43" height="7.88" fill="#FBFAFE" stroke="none" stroke-width="0" />
<rect x="26.58" y="210.95" width="10.43" height="7.88" fill="#D4C4F5" stroke="none" stroke-width="0" />
<rect x="36.96" y="210.95" width="10.43" height="7.88" fill="#D6C8F5" stroke="none" stroke-width="0" />
<rect x="47.34" y="210.95" width="10.43" height="7.88" fill="#FDEFE8" stroke="none" stroke-width="0" />
<rect x="57.72" y="210.95" width="10.43" height="7.88" fill="#FDF0EA" stroke="none" stroke-width="0" />
<rect x="68.10" y="210.95" width="10.43" height="7.88" fill="#FCE6DC" stroke="none" stroke-width="0" />
<rect x="78.48" y="210.95" width="10.43" height="7.88" fill="#FCE6DC" stroke="none" stroke-width="0" />
<rect x="88.86" y="210.95" width="10.43" height="7.88" fill="#FCE8DF" stroke="none" stroke-width="0" />
<rect x="99.24" y="210.95" width="10.43" height="7.88" fill="#DCD0F8" stroke="none" stroke-width="0" />
<rect x="109.62" y="210.95" width="10.43" height="7.88" fill="#FBC0A8" stroke="none" stroke-width="0" />
<rect x="123.80" y="210.95" width="10.35" height="7.88" fill="#FCD8C8" stroke="none" stroke-width="0" />
<rect x="134.10" y="210.95" width="10.35" height="7.88" fill="#F9A084" stroke="none" stroke-width="0" />
<rect x="144.40" y="210.95" width="10.35" height="7.88" fill="#F3F0FC" stroke="none" stroke-width="0" />
<rect x="154.70" y="210.95" width="10.35" height="7.88" fill="#F64E2C" stroke="none" stroke-width="0" />
<rect x="165.00" y="210.95" width="10.35" height="7.88" fill="#F8845F" stroke="none" stroke-width="0" />
<rect x="16.20" y="218.78" width="10.43" height="7.88" fill="#FDFCFC" stroke="none" stroke-width="0" />
<rect x="26.58" y="218.78" width="10.43" height="7.88" fill="#FAF8FE" stroke="none" stroke-width="0" />
<rect x="36.96" y="218.78" width="10.43" height="7.88" fill="#EEE8FB" stroke="none" stroke-width="0" />
<rect x="47.34" y="218.78" width="10.43" height="7.88" fill="#FBFAFB" stroke="none" stroke-width="0" />
<rect x="57.72" y="218.78" width="10.43" height="7.88" fill="#F3F0FC" stroke="none" stroke-width="0" />
<rect x="68.10" y="218.78" width="10.43" height="7.88" fill="#EAE2F9" stroke="none" stroke-width="0" />
<rect x="78.48" y="218.78" width="10.43" height="7.88" fill="#EAE3FA" stroke="none" stroke-width="0" />
<rect x="88.86" y="218.78" width="10.43" height="7.88" fill="#EEE8FB" stroke="none" stroke-width="0" />
<rect x="99.24" y="218.78" width="10.43" height="7.88" fill="#BFAEF3" stroke="none" stroke-width="0" />
<rect x="109.62" y="218.78" width="10.43" height="7.88" fill="#9F86F0" stroke="none" stroke-width="0" />
<rect x="123.80" y="218.78" width="10.35" height="7.88" fill="#FCE0D3" stroke="none" stroke-width="0" />
<rect x="134.10" y="218.78" width="10.35" height="7.88" fill="#FDF5F0" stroke="none" stroke-width="0" />
<rect x="144.40" y="218.78" width="10.35" height="7.88" fill="#FBCAB6" stroke="none" stroke-width="0" />
<rect x="154.70" y="218.78" width="10.35" height="7.88" fill="#FCE3D8" stroke="none" stroke-width="0" />
<rect x="165.00" y="218.78" width="10.35" height="7.88" fill="#FCDCCD" stroke="none" stroke-width="0" />
<rect x="16.20" y="226.61" width="10.43" height="7.88" fill="#F0EDFB" stroke="none" stroke-width="0" />
<rect x="26.58" y="226.61" width="10.43" height="7.88" fill="#FDF2EC" stroke="none" stroke-width="0" />
<rect x="36.96" y="226.61" width="10.43" height="7.88" fill="#FDF2EC" stroke="none" stroke-width="0" />
<rect x="47.34" y="226.61" width="10.43" height="7.88" fill="#FCEDE6" stroke="none" stroke-width="0" />
<rect x="57.72" y="226.61" width="10.43" height="7.88" fill="#FFFFFF" stroke="none" stroke-width="0" />
<rect x="68.10" y="226.61" width="10.43" height="7.88" fill="#EDE6FA" stroke="none" stroke-width="0" />
<rect x="78.48" y="226.61" width="10.43" height="7.88" fill="#EDE6FA" stroke="none" stroke-width="0" />
<rect x="88.86" y="226.61" width="10.43" height="7.88" fill="#FFFFFF" stroke="none" stroke-width="0" />
<rect x="99.24" y="226.61" width="10.43" height="7.88" fill="#E0D6F8" stroke="none" stroke-width="0" />
<rect x="109.62" y="226.61" width="10.43" height="7.88" fill="#4020EE" stroke="none" stroke-width="0" />
<rect x="123.80" y="226.61" width="10.35" height="7.88" fill="#F5F2FC" stroke="none" stroke-width="0" />
<rect x="134.10" y="226.61" width="10.35" height="7.88" fill="#F3F0FC" stroke="none" stroke-width="0" />
<rect x="144.40" y="226.61" width="10.35" height="7.88" fill="#FFFFFF" stroke="none" stroke-width="0" />
<rect x="154.70" y="226.61" width="10.35" height="7.88" fill="#FCD8C8" stroke="none" stroke-width="0" />
<rect x="165.00" y="226.61" width="10.35" height="7.88" fill="#FAAA8E" stroke="none" stroke-width="0" />
<rect x="16.20" y="234.44" width="10.43" height="7.88" fill="#F5F2FC" stroke="none" stroke-width="0" />
<rect x="26.58" y="234.44" width="10.43" height="7.88" fill="#F3F0FB" stroke="none" stroke-width="0" />
<rect x="36.96" y="234.44" width="10.43" height="7.88" fill="#FCF0EA" stroke="none" stroke-width="0" />
<rect x="47.34" y="234.44" width="10.43" height="7.88" fill="#FBD8C8" stroke="none" stroke-width="0" />
<rect x="57.72" y="234.44" width="10.43" height="7.88" fill="#DCD0F8" stroke="none" stroke-width="0" />
<rect x="68.10" y="234.44" width="10.43" height="7.88" fill="#F8F5FE" stroke="none" stroke-width="0" />
<rect x="78.48" y="234.44" width="10.43" height="7.88" fill="#F3EFFC" stroke="none" stroke-width="0" />
<rect x="88.86" y="234.44" width="10.43" height="7.88" fill="#F5F2FD" stroke="none" stroke-width="0" />
<rect x="99.24" y="234.44" width="10.43" height="7.88" fill="#8F70EE" stroke="none" stroke-width="0" />
<rect x="109.62" y="234.44" width="10.43" height="7.88" fill="#BBA8F2" stroke="none" stroke-width="0" />
<rect x="123.80" y="234.44" width="10.35" height="7.88" fill="#FBC5B0" stroke="none" stroke-width="0" />
<rect x="134.10" y="234.44" width="10.35" height="7.88" fill="#FDFBFA" stroke="none" stroke-width="0" />
<rect x="144.40" y="234.44" width="10.35" height="7.88" fill="#FCDACB" stroke="none" stroke-width="0" />
<rect x="154.70" y="234.44" width="10.35" height="7.88" fill="#F7784F" stroke="none" stroke-width="0" />
<rect x="165.00" y="234.44" width="10.35" height="7.88" fill="#F54525" stroke="none" stroke-width="0" />
<rect x="16.20" y="246.40" width="10.43" height="7.94" fill="#FDFCFE" stroke="none" stroke-width="0" />
<rect x="26.58" y="246.40" width="10.43" height="7.94" fill="#FCE6DB" stroke="none" stroke-width="0" />
<rect x="36.96" y="246.40" width="10.43" height="7.94" fill="#FDF8F4" stroke="none" stroke-width="0" />
<rect x="47.34" y="246.40" width="10.43" height="7.94" fill="#E3D9F8" stroke="none" stroke-width="0" />
<rect x="57.72" y="246.40" width="10.43" height="7.94" fill="#E3D9F8" stroke="none" stroke-width="0" />
<rect x="68.10" y="246.40" width="10.43" height="7.94" fill="#FDF5F0" stroke="none" stroke-width="0" />
<rect x="78.48" y="246.40" width="10.43" height="7.94" fill="#E3D9F8" stroke="none" stroke-width="0" />
<rect x="88.86" y="246.40" width="10.43" height="7.94" fill="#A890F0" stroke="none" stroke-width="0" />
<rect x="99.24" y="246.40" width="10.43" height="7.94" fill="#A890F0" stroke="none" stroke-width="0" />
<rect x="109.62" y="246.40" width="10.43" height="7.94" fill="#F99070" stroke="none" stroke-width="0" />
<rect x="123.80" y="246.40" width="10.35" height="7.94" fill="#FCDCCD" stroke="none" stroke-width="0" />
<rect x="134.10" y="246.40" width="10.35" height="7.94" fill="#FFFFFF" stroke="none" stroke-width="0" />
<rect x="144.40" y="246.40" width="10.35" height="7.94" fill="#FCCCB8" stroke="none" stroke-width="0" />
<rect x="154.70" y="246.40" width="10.35" height="7.94" fill="#FBC4AE" stroke="none" stroke-width="0" />
<rect x="165.00" y="246.40" width="10.35" height="7.94" fill="#FBC4AE" stroke="none" stroke-width="0" />
<rect x="16.20" y="254.29" width="10.43" height="7.94" fill="#FDF9F7" stroke="none" stroke-width="0" />
<rect x="26.58" y="254.29" width="10.43" height="7.94" fill="#FDF5F0" stroke="none" stroke-width="0" />
<rect x="36.96" y="254.29" width="10.43" height="7.94" fill="#E8E0F9" stroke="none" stroke-width="0" />
<rect x="47.34" y="254.29" width="10.43" height="7.94" fill="#FDF3EE" stroke="none" stroke-width="0" />
<rect x="57.72" y="254.29" width="10.43" height="7.94" fill="#F0EBFC" stroke="none" stroke-width="0" />
<rect x="68.10" y="254.29" width="10.43" height="7.94" fill="#EDE6FA" stroke="none" stroke-width="0" />
<rect x="78.48" y="254.29" width="10.43" height="7.94" fill="#E3DAF8" stroke="none" stroke-width="0" />
<rect x="88.86" y="254.29" width="10.43" height="7.94" fill="#D6C8F5" stroke="none" stroke-width="0" />
<rect x="99.24" y="254.29" width="10.43" height="7.94" fill="#EAE2F9" stroke="none" stroke-width="0" />
<rect x="109.62" y="254.29" width="10.43" height="7.94" fill="#FCDDCF" stroke="none" stroke-width="0" />
<rect x="123.80" y="254.29" width="10.35" height="7.94" fill="#FDF0EA" stroke="none" stroke-width="0" />
<rect x="134.10" y="254.29" width="10.35" height="7.94" fill="#DFD5F8" stroke="none" stroke-width="0" />
<rect x="144.40" y="254.29" width="10.35" height="7.94" fill="#FDEAE2" stroke="none" stroke-width="0" />
<rect x="154.70" y="254.29" width="10.35" height="7.94" fill="#FDF0EA" stroke="none" stroke-width="0" />
<rect x="165.00" y="254.29" width="10.35" height="7.94" fill="#FDF8F5" stroke="none" stroke-width="0" />
<rect x="16.20" y="262.18" width="10.43" height="7.94" fill="#EFEAFB" stroke="none" stroke-width="0" />
<rect x="26.58" y="262.18" width="10.43" height="7.94" fill="#D6C8F6" stroke="none" stroke-width="0" />
<rect x="36.96" y="262.18" width="10.43" height="7.94" fill="#FFFFFF" stroke="none" stroke-width="0" />
<rect x="47.34" y="262.18" width="10.43" height="7.94" fill="#FFFFFF" stroke="none" stroke-width="0" />
<rect x="57.72" y="262.18" width="10.43" height="7.94" fill="#FFFFFF" stroke="none" stroke-width="0" />
<rect x="68.10" y="262.18" width="10.43" height="7.94" fill="#EDE6FA" stroke="none" stroke-width="0" />
<rect x="78.48" y="262.18" width="10.43" height="7.94" fill="#DED2F8" stroke="none" stroke-width="0" />
<rect x="88.86" y="262.18" width="10.43" height="7.94" fill="#9A80EF" stroke="none" stroke-width="0" />
<rect x="99.24" y="262.18" width="10.43" height="7.94" fill="#C9B8F3" stroke="none" stroke-width="0" />
<rect x="109.62" y="262.18" width="10.43" height="7.94" fill="#FFFFFF" stroke="none" stroke-width="0" />
<rect x="123.80" y="262.18" width="10.35" height="7.94" fill="#F9B49A" stroke="none" stroke-width="0" />
<rect x="134.10" y="262.18" width="10.35" height="7.94" fill="#F0EBFC" stroke="none" stroke-width="0" />
<rect x="144.40" y="262.18" width="10.35" height="7.94" fill="#F9957A" stroke="none" stroke-width="0" />
<rect x="154.70" y="262.18" width="10.35" height="7.94" fill="#FFFFFF" stroke="none" stroke-width="0" />
<rect x="165.00" y="262.18" width="10.35" height="7.94" fill="#FBD2C0" stroke="none" stroke-width="0" />
<rect x="16.20" y="270.07" width="10.43" height="7.94" fill="#F8F6FE" stroke="none" stroke-width="0" />
<rect x="26.58" y="270.07" width="10.43" height="7.94" fill="#FDF9F6" stroke="none" stroke-width="0" />
<rect x="36.96" y="270.07" width="10.43" height="7.94" fill="#DDD0F8" stroke="none" stroke-width="0" />
<rect x="47.34" y="270.07" width="10.43" height="7.94" fill="#E5DCF8" stroke="none" stroke-width="0" />
<rect x="57.72" y="270.07" width="10.43" height="7.94" fill="#FFFFFF" stroke="none" stroke-width="0" />
<rect x="68.10" y="270.07" width="10.43" height="7.94" fill="#FFFFFF" stroke="none" stroke-width="0" />
<rect x="78.48" y="270.07" width="10.43" height="7.94" fill="#7456EE" stroke="none" stroke-width="0" />
<rect x="88.86" y="270.07" width="10.43" height="7.94" fill="#F3EFFC" stroke="none" stroke-width="0" />
<rect x="99.24" y="270.07" width="10.43" height="7.94" fill="#A890F0" stroke="none" stroke-width="0" />
<rect x="109.62" y="270.07" width="10.43" height="7.94" fill="#FFFFFF" stroke="none" stroke-width="0" />
<rect x="123.80" y="270.07" width="10.35" height="7.94" fill="#FFFFFF" stroke="none" stroke-width="0" />
<rect x="134.10" y="270.07" width="10.35" height="7.94" fill="#D6C8F5" stroke="none" stroke-width="0" />
<rect x="144.40" y="270.07" width="10.35" height="7.94" fill="#FBC8B3" stroke="none" stroke-width="0" />
<rect x="154.70" y="270.07" width="10.35" height="7.94" fill="#F9AA8E" stroke="none" stroke-width="0" />
<rect x="165.00" y="270.07" width="10.35" height="7.94" fill="#F9AA8E" stroke="none" stroke-width="0" />
<rect x="16.20" y="277.96" width="10.43" height="7.94" fill="#FDFCFE" stroke="none" stroke-width="0" />
<rect x="26.58" y="277.96" width="10.43" height="7.94" fill="#FBF9FE" stroke="none" stroke-width="0" />
<rect x="36.96" y="277.96" width="10.43" height="7.94" fill="#FFFFFF" stroke="none" stroke-width="0" />
<rect x="47.34" y="277.96" width="10.43" height="7.94" fill="#FFFFFF" stroke="none" stroke-width="0" />
<rect x="57.72" y="277.96" width="10.43" height="7.94" fill="#FFFFFF" stroke="none" stroke-width="0" />
<rect x="68.10" y="277.96" width="10.43" height="7.94" fill="#E0D6F8" stroke="none" stroke-width="0" />
<rect x="78.48" y="277.96" width="10.43" height="7.94" fill="#FFFFFF" stroke="none" stroke-width="0" />
<rect x="88.86" y="277.96" width="10.43" height="7.94" fill="#FAF8FE" stroke="none" stroke-width="0" />
<rect x="99.24" y="277.96" width="10.43" height="7.94" fill="#E8E0F9" stroke="none" stroke-width="0" />
<rect x="109.62" y="277.96" width="10.43" height="7.94" fill="#FDF8F4" stroke="none" stroke-width="0" />
<rect x="123.80" y="277.96" width="10.35" height="7.94" fill="#FDF8F5" stroke="none" stroke-width="0" />
<rect x="134.10" y="277.96" width="10.35" height="7.94" fill="#FDF0EA" stroke="none" stroke-width="0" />
<rect x="144.40" y="277.96" width="10.35" height="7.94" fill="#FCE6DB" stroke="none" stroke-width="0" />
<rect x="154.70" y="277.96" width="10.35" height="7.94" fill="#FCE6DB" stroke="none" stroke-width="0" />
<rect x="165.00" y="277.96" width="10.35" height="7.94" fill="#FDEDE6" stroke="none" stroke-width="0" />
<rect x="16.20" y="285.85" width="10.43" height="7.94" fill="#F3F0FC" stroke="none" stroke-width="0" />
<rect x="26.58" y="285.85" width="10.43" height="7.94" fill="#FDFCFE" stroke="none" stroke-width="0" />
<rect x="36.96" y="285.85" width="10.43" height="7.94" fill="#F8805C" stroke="none" stroke-width="0" />
<rect x="47.34" y="285.85" width="10.43" height="7.94" fill="#2A1CE8" stroke="none" stroke-width="0" />
<rect x="57.72" y="285.85" width="10.43" height="7.94" fill="#7C62EE" stroke="none" stroke-width="0" />
<rect x="68.10" y="285.85" width="10.43" height="7.94" fill="#DDD2F8" stroke="none" stroke-width="0" />
<rect x="78.48" y="285.85" width="10.43" height="7.94" fill="#C5B3F3" stroke="none" stroke-width="0" />
<rect x="88.86" y="285.85" width="10.43" height="7.94" fill="#D6C8F5" stroke="none" stroke-width="0" />
<rect x="99.24" y="285.85" width="10.43" height="7.94" fill="#8568EE" stroke="none" stroke-width="0" />
<rect x="109.62" y="285.85" width="10.43" height="7.94" fill="#F51A10" stroke="none" stroke-width="0" />
<rect x="123.80" y="285.85" width="10.35" height="7.94" fill="#FCE6DC" stroke="none" stroke-width="0" />
<rect x="134.10" y="285.85" width="10.35" height="7.94" fill="#D8CCF5" stroke="none" stroke-width="0" />
<rect x="144.40" y="285.85" width="10.35" height="7.94" fill="#F88A68" stroke="none" stroke-width="0" />
<rect x="154.70" y="285.85" width="10.35" height="7.94" fill="#F88E6C" stroke="none" stroke-width="0" />
<rect x="165.00" y="285.85" width="10.35" height="7.94" fill="#FBB8A2" stroke="none" stroke-width="0" />
<rect x="16.20" y="293.74" width="10.43" height="7.94" fill="#FDFCFE" stroke="none" stroke-width="0" />
<rect x="26.58" y="293.74" width="10.43" height="7.94" fill="#FFFFFF" stroke="none" stroke-width="0" />
<rect x="36.96" y="293.74" width="10.43" height="7.94" fill="#E8E0F9" stroke="none" stroke-width="0" />
<rect x="47.34" y="293.74" width="10.43" height="7.94" fill="#FFFFFF" stroke="none" stroke-width="0" />
<rect x="57.72" y="293.74" width="10.43" height="7.94" fill="#F8F6FE" stroke="none" stroke-width="0" />
<rect x="68.10" y="293.74" width="10.43" height="7.94" fill="#E8E0F9" stroke="none" stroke-width="0" />
<rect x="78.48" y="293.74" width="10.43" height="7.94" fill="#FDEEE6" stroke="none" stroke-width="0" />
<rect x="88.86" y="293.74" width="10.43" height="7.94" fill="#E3D9F8" stroke="none" stroke-width="0" />
<rect x="99.24" y="293.74" width="10.43" height="7.94" fill="#C2B0F3" stroke="none" stroke-width="0" />
<rect x="109.62" y="293.74" width="10.43" height="7.94" fill="#FBC5B0" stroke="none" stroke-width="0" />
<rect x="123.80" y="293.74" width="10.35" height="7.94" fill="#FDF3EE" stroke="none" stroke-width="0" />
<rect x="134.10" y="293.74" width="10.35" height="7.94" fill="#F3F0FC" stroke="none" stroke-width="0" />
<rect x="144.40" y="293.74" width="10.35" height="7.94" fill="#FCD8C8" stroke="none" stroke-width="0" />
<rect x="154.70" y="293.74" width="10.35" height="7.94" fill="#F9A084" stroke="none" stroke-width="0" />
<rect x="165.00" y="293.74" width="10.35" height="7.94" fill="#EEE8FB" stroke="none" stroke-width="0" />
<rect x="16.20" y="301.63" width="10.43" height="7.94" fill="#FCE6DC" stroke="none" stroke-width="0" />
<rect x="26.58" y="301.63" width="10.43" height="7.94" fill="#FFFFFF" stroke="none" stroke-width="0" />
<rect x="36.96" y="301.63" width="10.43" height="7.94" fill="#FDEFE8" stroke="none" stroke-width="0" />
<rect x="47.34" y="301.63" width="10.43" height="7.94" fill="#FDF3EE" stroke="none" stroke-width="0" />
<rect x="57.72" y="301.63" width="10.43" height="7.94" fill="#B59FF2" stroke="none" stroke-width="0" />
<rect x="68.10" y="301.63" width="10.43" height="7.94" fill="#FBB8A0" stroke="none" stroke-width="0" />
<rect x="78.48" y="301.63" width="10.43" height="7.94" fill="#EEE8FB" stroke="none" stroke-width="0" />
<rect x="88.86" y="301.63" width="10.43" height="7.94" fill="#9A80EF" stroke="none" stroke-width="0" />
<rect x="99.24" y="301.63" width="10.43" height="7.94" fill="#5535F0" stroke="none" stroke-width="0" />
<rect x="109.62" y="301.63" width="10.43" height="7.94" fill="#FF0A00" stroke="none" stroke-width="0" />
<rect x="123.80" y="301.63" width="10.35" height="7.94" fill="#FFFFFF" stroke="none" stroke-width="0" />
<rect x="134.10" y="301.63" width="10.35" height="7.94" fill="#8468EE" stroke="none" stroke-width="0" />
<rect x="144.40" y="301.63" width="10.35" height="7.94" fill="#F99A7C" stroke="none" stroke-width="0" />
<rect x="154.70" y="301.63" width="10.35" height="7.94" fill="#FF0800" stroke="none" stroke-width="0" />
<rect x="165.00" y="301.63" width="10.35" height="7.94" fill="#FCDACB" stroke="none" stroke-width="0" />
<rect x="16.20" y="309.52" width="10.43" height="7.94" fill="#FDF8F5" stroke="none" stroke-width="0" />
<rect x="26.58" y="309.52" width="10.43" height="7.94" fill="#FFFFFF" stroke="none" stroke-width="0" />
<rect x="36.96" y="309.52" width="10.43" height="7.94" fill="#F3F0FC" stroke="none" stroke-width="0" />
<rect x="47.34" y="309.52" width="10.43" height="7.94" fill="#F99A7C" stroke="none" stroke-width="0" />
<rect x="57.72" y="309.52" width="10.43" height="7.94" fill="#B8A4F2" stroke="none" stroke-width="0" />
<rect x="68.10" y="309.52" width="10.43" height="7.94" fill="#CFC0F5" stroke="none" stroke-width="0" />
<rect x="78.48" y="309.52" width="10.43" height="7.94" fill="#C5B3F3" stroke="none" stroke-width="0" />
<rect x="88.86" y="309.52" width="10.43" height="7.94" fill="#DDD2F8" stroke="none" stroke-width="0" />
<rect x="99.24" y="309.52" width="10.43" height="7.94" fill="#B09AF2" stroke="none" stroke-width="0" />
<rect x="109.62" y="309.52" width="10.43" height="7.94" fill="#F9A084" stroke="none" stroke-width="0" />
<rect x="123.80" y="309.52" width="10.35" height="7.94" fill="#FFFFFF" stroke="none" stroke-width="0" />
<rect x="134.10" y="309.52" width="10.35" height="7.94" fill="#D6C8F5" stroke="none" stroke-width="0" />
<rect x="144.40" y="309.52" width="10.35" height="7.94" fill="#FBC0A8" stroke="none" stroke-width="0" />
<rect x="154.70" y="309.52" width="10.35" height="7.94" fill="#FCE3D8" stroke="none" stroke-width="0" />
<rect x="165.00" y="309.52" width="10.35" height="7.94" fill="#F5F2FC" stroke="none" stroke-width="0" />
<rect x="16.20" y="317.41" width="10.43" height="7.94" fill="#FDFAF8" stroke="none" stroke-width="0" />
<rect x="26.58" y="317.41" width="10.43" height="7.94" fill="#FDF3EE" stroke="none" stroke-width="0" />
<rect x="36.96" y="317.41" width="10.43" height="7.94" fill="#F88C68" stroke="none" stroke-width="0" />
<rect x="47.34" y="317.41" width="10.43" height="7.94" fill="#F78058" stroke="none" stroke-width="0" />
<rect x="57.72" y="317.41" width="10.43" height="7.94" fill="#F3F0FC" stroke="none" stroke-width="0" />
<rect x="68.10" y="317.41" width="10.43" height="7.94" fill="#FBC0A8" stroke="none" stroke-width="0" />
<rect x="78.48" y="317.41" width="10.43" height="7.94" fill="#F8F6FE" stroke="none" stroke-width="0" />
<rect x="88.86" y="317.41" width="10.43" height="7.94" fill="#A890F0" stroke="none" stroke-width="0" />
<rect x="99.24" y="317.41" width="10.43" height="7.94" fill="#C5B3F3" stroke="none" stroke-width="0" />
<rect x="109.62" y="317.41" width="10.43" height="7.94" fill="#FFFFFF" stroke="none" stroke-width="0" />
<rect x="123.80" y="317.41" width="10.35" height="7.94" fill="#FCE3D8" stroke="none" stroke-width="0" />
<rect x="134.10" y="317.41" width="10.35" height="7.94" fill="#EEE8FB" stroke="none" stroke-width="0" />
<rect x="144.40" y="317.41" width="10.35" height="7.94" fill="#FDEDE6" stroke="none" stroke-width="0" />
<rect x="154.70" y="317.41" width="10.35" height="7.94" fill="#FBC5B0" stroke="none" stroke-width="0" />
<rect x="165.00" y="317.41" width="10.35" height="7.94" fill="#CDBDF5" stroke="none" stroke-width="0" />
</g>
<text x="179.60" y="177.01" font-size="5.3" text-anchor="start" font-weight="normal" fill="#222" stroke="#222" stroke-width="0.08" >CCL3</text>
<path d="M209.00,173.35 L209.00,176.45 M210.34,174.12 L207.66,175.68 M210.34,175.68 L207.66,174.12 " stroke="#111" stroke-width="0.65" stroke-linecap="round"/>
<path d="M213.20,173.35 L213.20,176.45 M214.54,174.12 L211.86,175.68 M214.54,175.68 L211.86,174.12 " stroke="#111" stroke-width="0.65" stroke-linecap="round"/>
<text x="179.60" y="185.01" font-size="5.3" text-anchor="start" font-weight="normal" fill="#222" stroke="#222" stroke-width="0.08" >CCL4</text>
<path d="M209.00,181.35 L209.00,184.45 M210.34,182.12 L207.66,183.68 M210.34,183.68 L207.66,182.12 " stroke="#111" stroke-width="0.65" stroke-linecap="round"/>
<path d="M213.20,181.35 L213.20,184.45 M214.54,182.12 L211.86,183.68 M214.54,183.68 L211.86,182.12 " stroke="#111" stroke-width="0.65" stroke-linecap="round"/>
<text x="179.60" y="193.01" font-size="5.3" text-anchor="start" font-weight="normal" fill="#222" stroke="#222" stroke-width="0.08" >CCL5</text>
<path d="M211.30,189.35 L211.30,192.45 M212.64,190.12 L209.96,191.68 M212.64,191.68 L209.96,190.12 " stroke="#111" stroke-width="0.65" stroke-linecap="round"/>
<text x="179.60" y="201.01" font-size="5.3" text-anchor="start" font-weight="normal" fill="#222" stroke="#222" stroke-width="0.08" >CXCL10</text>
<text x="179.60" y="209.01" font-size="5.3" text-anchor="start" font-weight="normal" fill="#222" stroke="#222" stroke-width="0.08" >CCL2</text>
<path d="M211.30,205.35 L211.30,208.45 M212.64,206.12 L209.96,207.68 M212.64,207.68 L209.96,206.12 " stroke="#111" stroke-width="0.65" stroke-linecap="round"/>
<text x="179.60" y="217.01" font-size="5.3" text-anchor="start" font-weight="normal" fill="#222" stroke="#222" stroke-width="0.08" >IL-10</text>
<path d="M211.30,213.35 L211.30,216.45 M212.64,214.12 L209.96,215.68 M212.64,215.68 L209.96,214.12 " stroke="#111" stroke-width="0.65" stroke-linecap="round"/>
<text x="179.60" y="225.01" font-size="5.3" text-anchor="start" font-weight="normal" fill="#222" stroke="#222" stroke-width="0.08" >IL-4</text>
<path d="M211.30,221.35 L211.30,224.45 M212.64,222.12 L209.96,223.68 M212.64,223.68 L209.96,222.12 " stroke="#111" stroke-width="0.65" stroke-linecap="round"/>
<text x="179.60" y="233.01" font-size="5.3" text-anchor="start" font-weight="normal" fill="#222" stroke="#222" stroke-width="0.08" >IFNγ</text>
<text x="179.60" y="241.01" font-size="5.3" text-anchor="start" font-weight="normal" fill="#222" stroke="#222" stroke-width="0.08" >TNFα</text>
<path d="M211.30,237.35 L211.30,240.45 M212.64,238.12 L209.96,239.68 M212.64,239.68 L209.96,238.12 " stroke="#111" stroke-width="0.65" stroke-linecap="round"/>
<text x="179.60" y="252.41" font-size="5.3" text-anchor="start" font-weight="normal" fill="#222" stroke="#222" stroke-width="0.08" >IL-1ra</text>
<text x="179.60" y="260.36" font-size="5.3" text-anchor="start" font-weight="normal" fill="#222" stroke="#222" stroke-width="0.08" >IL-9</text>
<text x="179.60" y="268.31" font-size="5.3" text-anchor="start" font-weight="normal" fill="#222" stroke="#222" stroke-width="0.08" >G-CSF</text>
<path d="M211.30,264.65 L211.30,267.75 M212.64,265.43 L209.96,266.97 M212.64,266.97 L209.96,265.43 " stroke="#111" stroke-width="0.65" stroke-linecap="round"/>
<text x="179.60" y="276.26" font-size="5.3" text-anchor="start" font-weight="normal" fill="#222" stroke="#222" stroke-width="0.08" >IL-5</text>
<text x="179.60" y="284.21" font-size="5.3" text-anchor="start" font-weight="normal" fill="#222" stroke="#222" stroke-width="0.08" >FGF-basic</text>
<path d="M211.30,280.55 L211.30,283.65 M212.64,281.33 L209.96,282.88 M212.64,282.88 L209.96,281.33 " stroke="#111" stroke-width="0.65" stroke-linecap="round"/>
<text x="179.60" y="292.16" font-size="5.3" text-anchor="start" font-weight="normal" fill="#222" stroke="#222" stroke-width="0.08" >IL-17</text>
<text x="179.60" y="300.11" font-size="5.3" text-anchor="start" font-weight="normal" fill="#222" stroke="#222" stroke-width="0.08" >Eotaxin</text>
<text x="179.60" y="308.06" font-size="5.3" text-anchor="start" font-weight="normal" fill="#222" stroke="#222" stroke-width="0.08" >VEGF</text>
<text x="179.60" y="316.01" font-size="5.3" text-anchor="start" font-weight="normal" fill="#222" stroke="#222" stroke-width="0.08" >IL-6</text>
<text x="179.60" y="323.96" font-size="5.3" text-anchor="start" font-weight="normal" fill="#222" stroke="#222" stroke-width="0.08" >IL-2</text>
<rect x="16.20" y="162.60" width="10.38" height="7.20" fill="#aaaaaa" stroke="#7e7e7e" stroke-width="0.35" />
<rect x="26.58" y="162.60" width="10.38" height="7.20" fill="#aaaaaa" stroke="#7e7e7e" stroke-width="0.35" />
<rect x="36.96" y="162.60" width="10.38" height="7.20" fill="#bcc1f6" stroke="#7e7e7e" stroke-width="0.35" />
<rect x="47.34" y="162.60" width="10.38" height="7.20" fill="#bcc1f6" stroke="#7e7e7e" stroke-width="0.35" />
<rect x="57.72" y="162.60" width="10.38" height="7.20" fill="#bcc1f6" stroke="#7e7e7e" stroke-width="0.35" />
<rect x="68.10" y="162.60" width="10.38" height="7.20" fill="#bcc1f6" stroke="#7e7e7e" stroke-width="0.35" />
<rect x="78.48" y="162.60" width="10.38" height="7.20" fill="#f5b9b2" stroke="#7e7e7e" stroke-width="0.35" />
<rect x="88.86" y="162.60" width="10.38" height="7.20" fill="#bcc1f6" stroke="#7e7e7e" stroke-width="0.35" />
<rect x="99.24" y="162.60" width="10.38" height="7.20" fill="#bcc1f6" stroke="#7e7e7e" stroke-width="0.35" />
<rect x="109.62" y="162.60" width="10.38" height="7.20" fill="#bcc1f6" stroke="#7e7e7e" stroke-width="0.35" />
<rect x="123.80" y="162.60" width="10.30" height="7.20" fill="#aaaaaa" stroke="#7e7e7e" stroke-width="0.35" />
<rect x="134.10" y="162.60" width="10.30" height="7.20" fill="#f5b9b2" stroke="#7e7e7e" stroke-width="0.35" />
<rect x="144.40" y="162.60" width="10.30" height="7.20" fill="#f5b9b2" stroke="#7e7e7e" stroke-width="0.35" />
<rect x="154.70" y="162.60" width="10.30" height="7.20" fill="#f5b9b2" stroke="#7e7e7e" stroke-width="0.35" />
<rect x="165.00" y="162.60" width="10.30" height="7.20" fill="#bcc1f6" stroke="#7e7e7e" stroke-width="0.35" />
<path d="M21.39,162.60 L21.39,159.20 L31.77,159.20 L31.77,162.60" fill="none" stroke="#8c8c8c" stroke-width="0.55"/>
<path d="M26.58,159.20 L26.58,157.70 L42.15,157.70 L42.15,162.60" fill="none" stroke="#8c8c8c" stroke-width="0.55"/>
<path d="M34.36,157.70 L34.36,156.40 L52.53,156.40 L52.53,162.60" fill="none" stroke="#8c8c8c" stroke-width="0.55"/>
<path d="M62.91,162.60 L62.91,157.30 L73.29,157.30 L73.29,162.60" fill="none" stroke="#8c8c8c" stroke-width="0.55"/>
<path d="M43.45,156.40 L43.45,155.20 L68.10,155.20 L68.10,157.30" fill="none" stroke="#8c8c8c" stroke-width="0.55"/>
<path d="M83.67,162.60 L83.67,157.60 L94.05,157.60 L94.05,162.60" fill="none" stroke="#8c8c8c" stroke-width="0.55"/>
<path d="M88.86,157.60 L88.86,155.90 L104.43,155.90 L104.43,162.60" fill="none" stroke="#8c8c8c" stroke-width="0.55"/>
<path d="M55.77,155.20 L55.77,152.80 L96.65,152.80 L96.65,155.90" fill="none" stroke="#8c8c8c" stroke-width="0.55"/>
<path d="M76.21,152.80 L76.21,149.50 L114.81,149.50 L114.81,162.60" fill="none" stroke="#8c8c8c" stroke-width="0.55"/>
<path d="M128.95,162.60 L128.95,158.30 L139.25,158.30 L139.25,162.60" fill="none" stroke="#8c8c8c" stroke-width="0.55"/>
<path d="M134.10,158.30 L134.10,153.60 L149.55,153.60 L149.55,162.60" fill="none" stroke="#8c8c8c" stroke-width="0.55"/>
<path d="M159.85,162.60 L159.85,157.30 L170.15,157.30 L170.15,162.60" fill="none" stroke="#8c8c8c" stroke-width="0.55"/>
<path d="M141.82,153.60 L141.82,152.00 L165.00,152.00 L165.00,157.30" fill="none" stroke="#8c8c8c" stroke-width="0.55"/>
<path d="M95.51,149.50 L95.51,147.20 L153.41,147.20 L153.41,152.00" fill="none" stroke="#8c8c8c" stroke-width="0.55"/>
<text x="69.30" y="143.73" font-size="4.8" text-anchor="middle" font-weight="normal" fill="#333" stroke="#333" stroke-width="0.08" >1</text>
<text x="149.00" y="144.03" font-size="4.8" text-anchor="middle" font-weight="normal" fill="#333" stroke="#333" stroke-width="0.08" >2</text>
<path d="M16.00,175.72 L12.60,175.72 L12.60,183.55 L16.00,183.55" fill="none" stroke="#8c8c8c" stroke-width="0.55"/>
<path d="M12.60,179.63 L10.40,179.63 L10.40,191.38 L16.00,191.38" fill="none" stroke="#8c8c8c" stroke-width="0.55"/>
<path d="M10.40,185.50 L8.80,185.50 L8.80,199.21 L16.00,199.21" fill="none" stroke="#8c8c8c" stroke-width="0.55"/>
<path d="M8.80,192.35 L8.30,192.35 L8.30,207.03 L16.00,207.03" fill="none" stroke="#8c8c8c" stroke-width="0.55"/>
<path d="M8.30,199.69 L7.80,199.69 L7.80,214.87 L16.00,214.87" fill="none" stroke="#8c8c8c" stroke-width="0.55"/>
<path d="M16.00,222.70 L11.40,222.70 L11.40,230.53 L16.00,230.53" fill="none" stroke="#8c8c8c" stroke-width="0.55"/>
<path d="M11.40,226.61 L10.40,226.61 L10.40,238.35 L16.00,238.35" fill="none" stroke="#8c8c8c" stroke-width="0.55"/>
<path d="M7.80,207.28 L6.20,207.28 L6.20,232.48 L10.40,232.48" fill="none" stroke="#8c8c8c" stroke-width="0.55"/>
<path d="M16.00,250.34 L11.00,250.34 L11.00,258.24 L16.00,258.24" fill="none" stroke="#8c8c8c" stroke-width="0.55"/>
<path d="M11.00,254.29 L9.30,254.29 L9.30,266.12 L16.00,266.12" fill="none" stroke="#8c8c8c" stroke-width="0.55"/>
<path d="M9.30,260.21 L8.40,260.21 L8.40,274.01 L16.00,274.01" fill="none" stroke="#8c8c8c" stroke-width="0.55"/>
<path d="M16.00,281.90 L8.40,281.90 L8.40,289.80 L16.00,289.80" fill="none" stroke="#8c8c8c" stroke-width="0.55"/>
<path d="M16.00,297.69 L11.70,297.69 L11.70,305.57 L16.00,305.57" fill="none" stroke="#8c8c8c" stroke-width="0.55"/>
<path d="M11.70,301.63 L9.30,301.63 L9.30,313.46 L16.00,313.46" fill="none" stroke="#8c8c8c" stroke-width="0.55"/>
<path d="M8.40,285.85 L7.10,285.85 L7.10,307.55 L9.30,307.55" fill="none" stroke="#8c8c8c" stroke-width="0.55"/>
<path d="M8.40,267.11 L5.90,267.11 L5.90,296.70 L7.10,296.70" fill="none" stroke="#8c8c8c" stroke-width="0.55"/>
<path d="M5.90,281.90 L5.00,281.90 L5.00,321.35 L16.00,321.35" fill="none" stroke="#8c8c8c" stroke-width="0.55"/>
<path d="M6.20,219.88 L3.40,219.88 L3.40,301.63 L5.00,301.63" fill="none" stroke="#8c8c8c" stroke-width="0.55"/>
<rect x="20.40" y="335.50" width="45.50" height="9.50" fill="#e7a9c4" stroke="none" stroke-width="0" />
<text x="22.50" y="341.96" font-size="4.6" text-anchor="start" font-weight="normal" fill="#333" stroke="#333" stroke-width="0.08" >log<tspan font-size="3" dy="1.2">2</tspan><tspan dy="-1.2">FC(Tumor CM)</tspan></text>
<text x="68.80" y="341.80" font-size="5" text-anchor="start" font-weight="normal" fill="#333" stroke="#333" stroke-width="0.08" >−</text>
<rect x="72.20" y="335.50" width="46.80" height="9.50" fill="#f8d6e2" stroke="none" stroke-width="0" />
<text x="74.00" y="341.96" font-size="4.6" text-anchor="start" font-weight="normal" fill="#333" stroke="#333" stroke-width="0.08" >log<tspan font-size="3" dy="1.2">2</tspan><tspan dy="-1.2">FC(Adjacent CM)</tspan></text>
<defs><linearGradient id="gB" x1="0" y1="0" x2="0" y2="1"><stop offset="0" stop-color="#e80000"/><stop offset="0.5" stop-color="#ffffff"/><stop offset="1" stop-color="#2000e0"/></linearGradient><linearGradient id="gC" x1="0" y1="0" x2="0" y2="1"><stop offset="0" stop-color="#f00000"/><stop offset="0.5" stop-color="#ffffff"/><stop offset="1" stop-color="#2400f0"/></linearGradient></defs>
<rect x="20.40" y="349.60" width="7.30" height="34.90" fill="url(#gB)" stroke="none" stroke-width="0" />
<text x="29.40" y="351.66" font-size="4.6" text-anchor="start" font-weight="normal" fill="#333" stroke="#333" stroke-width="0.08" >4</text>
<line x1="26.20" y1="350.00" x2="27.70" y2="350.00" stroke="#fff" stroke-width="0.4"/>
<text x="29.40" y="360.36" font-size="4.6" text-anchor="start" font-weight="normal" fill="#333" stroke="#333" stroke-width="0.08" >2</text>
<line x1="26.20" y1="358.70" x2="27.70" y2="358.70" stroke="#fff" stroke-width="0.4"/>
<text x="29.40" y="368.66" font-size="4.6" text-anchor="start" font-weight="normal" fill="#333" stroke="#333" stroke-width="0.08" >0</text>
<line x1="26.20" y1="367.00" x2="27.70" y2="367.00" stroke="#fff" stroke-width="0.4"/>
<text x="29.40" y="377.16" font-size="4.6" text-anchor="start" font-weight="normal" fill="#333" stroke="#333" stroke-width="0.08" >-2</text>
<line x1="26.20" y1="375.50" x2="27.70" y2="375.50" stroke="#fff" stroke-width="0.4"/>
<text x="29.40" y="385.66" font-size="4.6" text-anchor="start" font-weight="normal" fill="#333" stroke="#333" stroke-width="0.08" >-4</text>
<line x1="26.20" y1="384.00" x2="27.70" y2="384.00" stroke="#fff" stroke-width="0.4"/>
<text x="133.00" y="340.54" font-size="5.4" text-anchor="start" font-weight="normal" fill="#222" stroke="#222" stroke-width="0.08" >BEX response in tumor</text>
<rect x="134.00" y="345.50" width="8.00" height="8.50" fill="#f5b9b2" stroke="#b0b0b0" stroke-width="0.5" />
<text x="146.40" y="351.74" font-size="5.4" text-anchor="start" font-weight="normal" fill="#222" stroke="#222" stroke-width="0.08" >R</text>
<rect x="155.70" y="345.50" width="8.00" height="8.50" fill="#bcc1f6" stroke="#b0b0b0" stroke-width="0.5" />
<text x="167.00" y="351.74" font-size="5.4" text-anchor="start" font-weight="normal" fill="#222" stroke="#222" stroke-width="0.08" >NoR</text>
<rect x="183.00" y="345.50" width="8.00" height="8.50" fill="#aaaaaa" stroke="#909090" stroke-width="0.5" />
<text x="194.30" y="351.74" font-size="5.4" text-anchor="start" font-weight="normal" fill="#222" stroke="#222" stroke-width="0.08" >NA</text>
<text x="222.30" y="7.44" font-size="9.0" text-anchor="start" font-weight="bold" fill="#000" stroke="#000" stroke-width="0" >C</text>
<text x="255.00" y="25.98" font-size="5.5" text-anchor="end" font-weight="normal" fill="#222" stroke="#222" stroke-width="0.08" >CCL2</text>
<line x1="256.00" y1="24.00" x2="258.60" y2="24.00" stroke="#555" stroke-width="0.5"/>
<text x="255.00" y="36.98" font-size="5.5" text-anchor="end" font-weight="normal" fill="#222" stroke="#222" stroke-width="0.08" >CCL3</text>
<line x1="256.00" y1="35.00" x2="258.60" y2="35.00" stroke="#555" stroke-width="0.5"/>
<text x="255.00" y="47.98" font-size="5.5" text-anchor="end" font-weight="normal" fill="#222" stroke="#222" stroke-width="0.08" >CCL4</text>
<line x1="256.00" y1="46.00" x2="258.60" y2="46.00" stroke="#555" stroke-width="0.5"/>
<text x="255.00" y="58.98" font-size="5.5" text-anchor="end" font-weight="normal" fill="#222" stroke="#222" stroke-width="0.08" >CCL5</text>
<line x1="256.00" y1="57.00" x2="258.60" y2="57.00" stroke="#555" stroke-width="0.5"/>
<text x="255.00" y="69.98" font-size="5.5" text-anchor="end" font-weight="normal" fill="#222" stroke="#222" stroke-width="0.08" >CXCL10</text>
<line x1="256.00" y1="68.00" x2="258.60" y2="68.00" stroke="#555" stroke-width="0.5"/>
<text x="255.00" y="80.98" font-size="5.5" text-anchor="end" font-weight="normal" fill="#222" stroke="#222" stroke-width="0.08" >IFNγ</text>
<line x1="256.00" y1="79.00" x2="258.60" y2="79.00" stroke="#555" stroke-width="0.5"/>
<text x="255.00" y="91.98" font-size="5.5" text-anchor="end" font-weight="normal" fill="#222" stroke="#222" stroke-width="0.08" >IL-10</text>
<line x1="256.00" y1="90.00" x2="258.60" y2="90.00" stroke="#555" stroke-width="0.5"/>
<text x="255.00" y="102.98" font-size="5.5" text-anchor="end" font-weight="normal" fill="#222" stroke="#222" stroke-width="0.08" >IL-4</text>
<line x1="256.00" y1="101.00" x2="258.60" y2="101.00" stroke="#555" stroke-width="0.5"/>
<text x="255.00" y="113.98" font-size="5.5" text-anchor="end" font-weight="normal" fill="#222" stroke="#222" stroke-width="0.08" >TNFα</text>
<line x1="256.00" y1="112.00" x2="258.60" y2="112.00" stroke="#555" stroke-width="0.5"/>
<rect x="259.00" y="18.0" width="23.6" height="98.8" rx="1.4" fill="#fff" stroke="#939393" stroke-width="0.75"/>
<text x="270.80" y="17.03" font-size="4.8" text-anchor="middle" font-weight="normal" fill="#333" stroke="#333" stroke-width="0.08" >ALL</text>
<line x1="265.30" y1="116.80" x2="265.30" y2="120.00" stroke="#777" stroke-width="0.5"/>
<rect x="261.90" y="120.30" width="6.80" height="6.60" fill="#f6cbdc" stroke="#a27088" stroke-width="0.5" />
<line x1="276.30" y1="116.80" x2="276.30" y2="120.00" stroke="#777" stroke-width="0.5"/>
<rect x="272.90" y="120.30" width="6.80" height="6.60" fill="#dc93b6" stroke="#a27088" stroke-width="0.5" />
<rect x="285.20" y="18.0" width="23.6" height="98.8" rx="1.4" fill="#fff" stroke="#939393" stroke-width="0.75"/>
<text x="297.00" y="10.83" font-size="4.8" text-anchor="middle" font-weight="normal" fill="#333" stroke="#333" stroke-width="0.08" >Cluster</text>
<text x="297.00" y="17.03" font-size="4.8" text-anchor="middle" font-weight="normal" fill="#333" stroke="#333" stroke-width="0.08" >1</text>
<line x1="291.50" y1="116.80" x2="291.50" y2="120.00" stroke="#777" stroke-width="0.5"/>
<rect x="288.10" y="120.30" width="6.80" height="6.60" fill="#f6cbdc" stroke="#a27088" stroke-width="0.5" />
<line x1="302.50" y1="116.80" x2="302.50" y2="120.00" stroke="#777" stroke-width="0.5"/>
<rect x="299.10" y="120.30" width="6.80" height="6.60" fill="#dc93b6" stroke="#a27088" stroke-width="0.5" />
<rect x="311.40" y="18.0" width="23.6" height="98.8" rx="1.4" fill="#fff" stroke="#939393" stroke-width="0.75"/>
<text x="323.20" y="10.83" font-size="4.8" text-anchor="middle" font-weight="normal" fill="#333" stroke="#333" stroke-width="0.08" >Cluster</text>
<text x="323.20" y="17.03" font-size="4.8" text-anchor="middle" font-weight="normal" fill="#333" stroke="#333" stroke-width="0.08" >2</text>
<line x1="317.70" y1="116.80" x2="317.70" y2="120.00" stroke="#777" stroke-width="0.5"/>
<rect x="314.30" y="120.30" width="6.80" height="6.60" fill="#f6cbdc" stroke="#a27088" stroke-width="0.5" />
<line x1="328.70" y1="116.80" x2="328.70" y2="120.00" stroke="#777" stroke-width="0.5"/>
<rect x="325.30" y="120.30" width="6.80" height="6.60" fill="#dc93b6" stroke="#a27088" stroke-width="0.5" />
<rect x="337.40" y="18.0" width="23.6" height="98.8" rx="1.4" fill="#fff" stroke="#939393" stroke-width="0.75"/>
<text x="349.20" y="10.83" font-size="4.8" text-anchor="middle" font-weight="normal" fill="#333" stroke="#333" stroke-width="0.08" >Response</text>
<text x="349.20" y="17.03" font-size="4.8" text-anchor="middle" font-weight="normal" fill="#333" stroke="#333" stroke-width="0.08" >NoR</text>
<line x1="343.70" y1="116.80" x2="343.70" y2="120.00" stroke="#777" stroke-width="0.5"/>
<rect x="340.30" y="120.30" width="6.80" height="6.60" fill="#f6cbdc" stroke="#a27088" stroke-width="0.5" />
<line x1="354.70" y1="116.80" x2="354.70" y2="120.00" stroke="#777" stroke-width="0.5"/>
<rect x="351.30" y="120.30" width="6.80" height="6.60" fill="#dc93b6" stroke="#a27088" stroke-width="0.5" />
<rect x="363.80" y="18.0" width="23.6" height="98.8" rx="1.4" fill="#fff" stroke="#939393" stroke-width="0.75"/>
<text x="375.60" y="10.83" font-size="4.8" text-anchor="middle" font-weight="normal" fill="#333" stroke="#333" stroke-width="0.08" >Response</text>
<text x="375.60" y="17.03" font-size="4.8" text-anchor="middle" font-weight="normal" fill="#333" stroke="#333" stroke-width="0.08" >R</text>
<line x1="370.10" y1="116.80" x2="370.10" y2="120.00" stroke="#777" stroke-width="0.5"/>
<rect x="366.70" y="120.30" width="6.80" height="6.60" fill="#f6cbdc" stroke="#a27088" stroke-width="0.5" />
<line x1="381.10" y1="116.80" x2="381.10" y2="120.00" stroke="#777" stroke-width="0.5"/>
<rect x="377.70" y="120.30" width="6.80" height="6.60" fill="#dc93b6" stroke="#a27088" stroke-width="0.5" />
<circle cx="265.30" cy="24.00" r="1.8" fill="#F3EEFA"/>
<circle cx="276.30" cy="24.00" r="1.8" fill="#FBF3F3"/>
<circle cx="265.30" cy="35.00" r="1.8" fill="#FCEEE8"/>
<circle cx="276.30" cy="35.00" r="2.0" fill="#FBD8CA"/>
<circle cx="265.30" cy="46.00" r="1.2" fill="#F9C0A8"/>
<circle cx="276.30" cy="46.00" r="1.2" fill="#F9B8A0"/>
<circle cx="265.30" cy="57.00" r="2.2" fill="#FCDCCD"/>
<circle cx="276.30" cy="57.00" r="2.0" fill="#FCEDE6"/>
<circle cx="265.30" cy="68.00" r="1.2" fill="#8870E0"/>
<circle cx="276.30" cy="68.00" r="1.2" fill="#FBCDB8"/>
<circle cx="265.30" cy="79.00" r="2.0" fill="#FDF2EC"/>
<circle cx="276.30" cy="79.00" r="2.0" fill="#FCEEE8"/>
<circle cx="265.30" cy="90.00" r="3.2" fill="#FCE6DC"/>
<circle cx="276.30" cy="101.00" r="2.0" fill="#F1EEFC"/>
<circle cx="276.30" cy="112.00" r="1.8" fill="#FCE8DF"/>
<circle cx="291.50" cy="24.00" r="2.5" fill="#FDF3EE"/>
<circle cx="302.50" cy="24.00" r="2.5" fill="#F1EEFC"/>
<circle cx="291.50" cy="35.00" r="4.0" fill="#FCE2D6"/>
<circle cx="302.50" cy="35.00" r="4.2" fill="#E6DDF8"/>
<circle cx="291.50" cy="46.00" r="4.6" fill="#FBC8B2"/>
<circle cx="302.50" cy="46.00" r="4.5" fill="#EEE8FB"/>
<circle cx="291.50" cy="57.00" r="3.0" fill="#FBD5C5"/>
<circle cx="302.50" cy="57.00" r="2.5" fill="#F1EEFC"/>
<circle cx="291.50" cy="68.00" r="2.8" fill="#7E58EE"/>
<circle cx="302.50" cy="68.00" r="2.6" fill="#D0C0F5"/>
<circle cx="291.50" cy="79.00" r="3.0" fill="#FBDFD2"/>
<circle cx="302.50" cy="79.00" r="3.0" fill="#FDF0EA"/>
<circle cx="302.50" cy="90.00" r="1.5" fill="#F1EEFC"/>
<circle cx="291.50" cy="101.00" r="4.5" fill="#FCE6DC"/>
<circle cx="302.50" cy="101.00" r="4.5" fill="#EAE3FA"/>
<circle cx="291.50" cy="112.00" r="3.5" fill="#FCE6DC"/>
<circle cx="302.50" cy="112.00" r="3.5" fill="#EEE8FB"/>
<circle cx="317.70" cy="24.00" r="3.8" fill="#E3D9F8"/>
<circle cx="328.70" cy="24.00" r="3.8" fill="#FCE3D8"/>
<circle cx="317.70" cy="35.00" r="3.5" fill="#F0EBFC"/>
<circle cx="328.70" cy="35.00" r="3.8" fill="#F8603C"/>
<circle cx="317.70" cy="46.00" r="4.0" fill="#DDD0F8"/>
<circle cx="328.70" cy="46.00" r="4.0" fill="#F84828"/>
<circle cx="317.70" cy="57.00" r="3.8" fill="#E0D6F8"/>
<circle cx="328.70" cy="57.00" r="3.8" fill="#F9A084"/>
<circle cx="317.70" cy="68.00" r="2.8" fill="#FCD8C8"/>
<circle cx="328.70" cy="68.00" r="2.8" fill="#F80A0A"/>
<circle cx="317.70" cy="79.00" r="2.0" fill="#F9F3FA"/>
<circle cx="328.70" cy="79.00" r="2.0" fill="#FDF3EE"/>
<circle cx="317.70" cy="90.00" r="3.3" fill="#FCE3D8"/>
<circle cx="328.70" cy="90.00" r="3.5" fill="#F52A18"/>
<circle cx="317.70" cy="101.00" r="3.8" fill="#E8E0F9"/>
<circle cx="328.70" cy="101.00" r="3.8" fill="#FBC8B3"/>
<circle cx="317.70" cy="112.00" r="3.5" fill="#E0D6F8"/>
<circle cx="328.70" cy="112.00" r="3.5" fill="#F9A084"/>
<circle cx="354.70" cy="24.00" r="1.5" fill="#F6F3FE"/>
<circle cx="343.70" cy="35.00" r="2.8" fill="#FCEDE6"/>
<circle cx="354.70" cy="35.00" r="2.8" fill="#DDD0F8"/>
<circle cx="343.70" cy="46.00" r="2.5" fill="#FBC5B0"/>
<circle cx="354.70" cy="46.00" r="2.5" fill="#FCDACB"/>
<circle cx="343.70" cy="57.00" r="2.2" fill="#FCE8DF"/>
<circle cx="354.70" cy="57.00" r="2.0" fill="#ECE6FA"/>
<circle cx="343.70" cy="68.00" r="2.0" fill="#3D20EE"/>
<circle cx="354.70" cy="68.00" r="2.0" fill="#FCD2C0"/>
<circle cx="343.70" cy="79.00" r="1.8" fill="#FDF3EE"/>
<circle cx="354.70" cy="79.00" r="1.8" fill="#FDF0EA"/>
<circle cx="343.70" cy="90.00" r="2.8" fill="#FCE3D8"/>
<circle cx="354.70" cy="90.00" r="2.8" fill="#FCD5C4"/>
<circle cx="343.70" cy="101.00" r="3.2" fill="#FDF3EE"/>
<circle cx="354.70" cy="101.00" r="3.3" fill="#E5DCF8"/>
<circle cx="343.70" cy="112.00" r="1.8" fill="#F5F2FC"/>
<circle cx="354.70" cy="112.00" r="1.8" fill="#F0EBFC"/>
<circle cx="370.10" cy="24.00" r="2.8" fill="#EBE3FA"/>
<circle cx="381.10" cy="24.00" r="2.8" fill="#FCE6DC"/>
<circle cx="370.10" cy="35.00" r="2.8" fill="#FDF3EE"/>
<circle cx="381.10" cy="35.00" r="3.0" fill="#F77450"/>
<circle cx="370.10" cy="46.00" r="2.6" fill="#EEE8FB"/>
<circle cx="381.10" cy="46.00" r="2.8" fill="#F77450"/>
<circle cx="370.10" cy="57.00" r="2.8" fill="#F9B09A"/>
<circle cx="381.10" cy="57.00" r="2.8" fill="#F8987A"/>
<circle cx="370.10" cy="68.00" r="1.0" fill="#FCE6DC"/>
<circle cx="381.10" cy="68.00" r="1.2" fill="#FBC8B3"/>
<circle cx="370.10" cy="79.00" r="1.0" fill="#FDF3EE"/>
<circle cx="370.10" cy="90.00" r="3.0" fill="#3D20F0"/>
<circle cx="381.10" cy="90.00" r="2.8" fill="#F3F0FC"/>
<circle cx="370.10" cy="101.00" r="2.8" fill="#FCDACB"/>
<circle cx="381.10" cy="101.00" r="2.8" fill="#F9A488"/>
<circle cx="370.10" cy="112.00" r="2.5" fill="#F0EBFC"/>
<circle cx="381.10" cy="112.00" r="2.5" fill="#FCE0D3"/>
<text x="396.80" y="10.73" font-size="4.8" text-anchor="start" font-weight="normal" fill="#222" stroke="#222" stroke-width="0.08" >Median log<tspan font-size="3.1" dy="1.2">2</tspan><tspan dy="-1.2">FC</tspan></text>
<rect x="398.40" y="14.80" width="7.30" height="38.90" fill="url(#gC)" stroke="none" stroke-width="0" />
<text x="407.20" y="17.52" font-size="4.5" text-anchor="start" font-weight="normal" fill="#222" stroke="#222" stroke-width="0.08" >1.5</text>
<line x1="404.20" y1="15.90" x2="405.70" y2="15.90" stroke="#fff" stroke-width="0.4"/>
<text x="407.20" y="23.92" font-size="4.5" text-anchor="start" font-weight="normal" fill="#222" stroke="#222" stroke-width="0.08" >1</text>
<line x1="404.20" y1="22.30" x2="405.70" y2="22.30" stroke="#fff" stroke-width="0.4"/>
<text x="407.20" y="30.22" font-size="4.5" text-anchor="start" font-weight="normal" fill="#222" stroke="#222" stroke-width="0.08" >0.5</text>
<line x1="404.20" y1="28.60" x2="405.70" y2="28.60" stroke="#fff" stroke-width="0.4"/>
<text x="407.20" y="36.12" font-size="4.5" text-anchor="start" font-weight="normal" fill="#222" stroke="#222" stroke-width="0.08" >0</text>
<line x1="404.20" y1="34.50" x2="405.70" y2="34.50" stroke="#fff" stroke-width="0.4"/>
<text x="407.20" y="42.52" font-size="4.5" text-anchor="start" font-weight="normal" fill="#222" stroke="#222" stroke-width="0.08" >-0.5</text>
<line x1="404.20" y1="40.90" x2="405.70" y2="40.90" stroke="#fff" stroke-width="0.4"/>
<text x="407.20" y="48.42" font-size="4.5" text-anchor="start" font-weight="normal" fill="#222" stroke="#222" stroke-width="0.08" >-1</text>
<line x1="404.20" y1="46.80" x2="405.70" y2="46.80" stroke="#fff" stroke-width="0.4"/>
<text x="407.20" y="54.52" font-size="4.5" text-anchor="start" font-weight="normal" fill="#222" stroke="#222" stroke-width="0.08" >-1.5</text>
<line x1="404.20" y1="52.90" x2="405.70" y2="52.90" stroke="#fff" stroke-width="0.4"/>
<text x="396.80" y="63.66" font-size="4.6" text-anchor="start" font-weight="normal" fill="#222" stroke="#222" stroke-width="0.08" >-log<tspan font-size="3" dy="1.1">10</tspan><tspan dy="-1.1">P-value</tspan></text>
<circle cx="402.2" cy="68.7" r="0.8" fill="#000"/>
<text x="408.60" y="70.36" font-size="4.6" text-anchor="start" font-weight="normal" fill="#222" stroke="#222" stroke-width="0.08" >0</text>
<circle cx="402.2" cy="74.4" r="2.4" fill="#000"/>
<text x="408.60" y="76.06" font-size="4.6" text-anchor="start" font-weight="normal" fill="#222" stroke="#222" stroke-width="0.08" >0.5</text>
<circle cx="402.2" cy="82.5" r="3.5" fill="#000"/>
<text x="408.60" y="84.16" font-size="4.6" text-anchor="start" font-weight="normal" fill="#222" stroke="#222" stroke-width="0.08" >1</text>
<circle cx="402.2" cy="91.3" r="4.2" fill="#000"/>
<text x="408.60" y="92.96" font-size="4.6" text-anchor="start" font-weight="normal" fill="#222" stroke="#222" stroke-width="0.08" >1.5</text>
<circle cx="402.2" cy="101.7" r="4.95" fill="#000"/>
<text x="408.60" y="103.36" font-size="4.6" text-anchor="start" font-weight="normal" fill="#222" stroke="#222" stroke-width="0.08" >2</text>
<text x="397.00" y="114.90" font-size="5.0" text-anchor="start" font-weight="normal" fill="#222" stroke="#222" stroke-width="0.08" >Conditioned medium</text>
<rect x="397.00" y="118.75" width="6.90" height="5.70" fill="#f6cbdc" stroke="#a27088" stroke-width="0.5" />
<text x="407.00" y="123.51" font-size="4.75" text-anchor="start" font-weight="normal" fill="#222" stroke="#222" stroke-width="0.08" >Adjacent</text>
<rect x="397.00" y="128.40" width="6.90" height="5.90" fill="#dc93b6" stroke="#a27088" stroke-width="0.5" />
<text x="407.00" y="132.96" font-size="4.75" text-anchor="start" font-weight="normal" fill="#222" stroke="#222" stroke-width="0.08" >Tumor</text>
<text x="228.50" y="147.65" font-size="9.3" text-anchor="start" font-weight="bold" fill="#000" stroke="#000" stroke-width="0" >D</text>
<text x="285.90" y="155.94" font-size="5.4" text-anchor="middle" font-weight="bold" fill="#111" stroke="#111" stroke-width="0" >IL-1ra</text>
<path d="M284.20,159.45 L284.20,161.95 M285.28,160.07 L283.12,161.32 M285.28,161.32 L283.12,160.07 " stroke="#111" stroke-width="0.7" stroke-linecap="round"/>
<path d="M287.60,159.45 L287.60,161.95 M288.68,160.07 L286.52,161.32 M288.68,161.32 L286.52,160.07 " stroke="#111" stroke-width="0.7" stroke-linecap="round"/>
<line x1="270.50" y1="163.50" x2="300.50" y2="163.50" stroke="#9a9a9a" stroke-width="0.8"/>
<line x1="252.80" y1="164.40" x2="252.80" y2="222.40" stroke="#b5b5b5" stroke-width="0.7"/>
<line x1="252.80" y1="222.40" x2="317.50" y2="222.40" stroke="#b5b5b5" stroke-width="0.7"/>
<line x1="251.20" y1="177.30" x2="252.80" y2="177.30" stroke="#555" stroke-width="0.5"/>
<text x="250.80" y="179.26" font-size="4.6" text-anchor="end" font-weight="normal" fill="#333" stroke="#333" stroke-width="0.08" >4096</text>
<line x1="251.20" y1="193.20" x2="252.80" y2="193.20" stroke="#555" stroke-width="0.5"/>
<text x="250.80" y="195.16" font-size="4.6" text-anchor="end" font-weight="normal" fill="#333" stroke="#333" stroke-width="0.08" >1024</text>
<line x1="251.20" y1="208.90" x2="252.80" y2="208.90" stroke="#555" stroke-width="0.5"/>
<text x="250.80" y="210.86" font-size="4.6" text-anchor="end" font-weight="normal" fill="#333" stroke="#333" stroke-width="0.08" >256</text>
<text transform="translate(235.50,192.50) rotate(-90)" x="0" y="0" font-size="4.7" text-anchor="middle" fill="#222">Concentration (pg/ml)</text>
<path d="M272.10,182.00 C272.23,182.08 272.68,181.83 272.90,182.50 C273.12,183.17 273.22,184.07 273.40,186.00 C273.58,187.93 273.62,191.93 274.00,194.10 C274.38,196.27 275.15,197.45 275.70,199.00 C276.25,200.55 276.60,201.98 277.30,203.40 C278.00,204.82 279.23,206.20 279.90,207.50 C280.57,208.80 281.20,210.03 281.30,211.20 C281.40,212.37 281.15,213.45 280.50,214.50 C279.85,215.55 278.58,216.72 277.40,217.50 C276.22,218.28 274.40,218.85 273.40,219.20 C272.40,219.55 271.73,219.53 271.40,219.60 L270.40,219.60 C270.07,219.53 269.40,219.55 268.40,219.20 C267.40,218.85 265.58,218.28 264.40,217.50 C263.22,216.72 261.95,215.55 261.30,214.50 C260.65,213.45 260.40,212.37 260.50,211.20 C260.60,210.03 261.23,208.80 261.90,207.50 C262.57,206.20 263.80,204.82 264.50,203.40 C265.20,201.98 265.55,200.55 266.10,199.00 C266.65,197.45 267.42,196.27 267.80,194.10 C268.18,191.93 268.22,187.93 268.40,186.00 C268.58,184.07 268.68,183.17 268.90,182.50 C269.12,181.83 269.57,182.08 269.70,182.00 Z" fill="#f6c3d8" stroke="#8e6178" stroke-width="0.5" stroke-linejoin="round"/>
<path d="M303.50,165.80 C304.58,165.88 308.30,165.77 310.00,166.30 C311.70,166.83 312.98,167.80 313.70,169.00 C314.42,170.20 314.47,171.83 314.30,173.50 C314.13,175.17 313.58,177.25 312.70,179.00 C311.82,180.75 310.37,182.42 309.00,184.00 C307.63,185.58 305.68,187.08 304.50,188.50 C303.32,189.92 302.48,190.78 301.90,192.50 C301.32,194.22 301.10,196.98 301.00,198.80 C300.90,200.62 301.08,202.12 301.30,203.40 C301.52,204.68 302.23,205.70 302.30,206.50 C302.37,207.30 301.95,207.85 301.70,208.20 C301.45,208.55 300.95,208.53 300.80,208.60 L300.20,208.60 C300.05,208.53 299.55,208.55 299.30,208.20 C299.05,207.85 298.63,207.30 298.70,206.50 C298.77,205.70 299.48,204.68 299.70,203.40 C299.92,202.12 300.10,200.62 300.00,198.80 C299.90,196.98 299.68,194.22 299.10,192.50 C298.52,190.78 297.68,189.92 296.50,188.50 C295.32,187.08 293.37,185.58 292.00,184.00 C290.63,182.42 289.18,180.75 288.30,179.00 C287.42,177.25 286.87,175.17 286.70,173.50 C286.53,171.83 286.58,170.20 287.30,169.00 C288.02,167.80 289.30,166.83 291.00,166.30 C292.70,165.77 296.42,165.88 297.50,165.80 Z" fill="#dc8db4" stroke="#8e6178" stroke-width="0.5" stroke-linejoin="round"/>
<rect x="269.80" y="201.10" width="2.2" height="13.20" fill="#fff" fill-opacity="0.9" stroke="#777" stroke-width="0.35" />
<rect x="299.20" y="171.60" width="2.0" height="11.60" fill="#fff" fill-opacity="0.9" stroke="#777" stroke-width="0.35" />
<line x1="271.40" y1="182.50" x2="300.30" y2="167.50" stroke="#3d3d3d" stroke-width="0.4"/>
<line x1="271.40" y1="191.00" x2="300.30" y2="175.40" stroke="#3d3d3d" stroke-width="0.4"/>
<line x1="271.40" y1="201.00" x2="300.30" y2="178.00" stroke="#3d3d3d" stroke-width="0.4"/>
<line x1="271.40" y1="203.00" x2="300.30" y2="172.00" stroke="#3d3d3d" stroke-width="0.4"/>
<line x1="271.40" y1="205.00" x2="300.30" y2="181.00" stroke="#3d3d3d" stroke-width="0.4"/>
<line x1="271.40" y1="207.00" x2="300.30" y2="176.00" stroke="#3d3d3d" stroke-width="0.4"/>
<line x1="271.40" y1="208.50" x2="300.30" y2="183.00" stroke="#3d3d3d" stroke-width="0.4"/>
<line x1="271.40" y1="210.00" x2="300.30" y2="170.50" stroke="#3d3d3d" stroke-width="0.4"/>
<line x1="271.40" y1="211.00" x2="300.30" y2="179.00" stroke="#3d3d3d" stroke-width="0.4"/>
<line x1="271.40" y1="212.00" x2="300.30" y2="174.00" stroke="#3d3d3d" stroke-width="0.4"/>
<line x1="271.40" y1="213.50" x2="300.30" y2="186.00" stroke="#3d3d3d" stroke-width="0.4"/>
<line x1="271.40" y1="215.00" x2="300.30" y2="182.00" stroke="#3d3d3d" stroke-width="0.4"/>
<line x1="271.40" y1="217.00" x2="300.30" y2="193.00" stroke="#3d3d3d" stroke-width="0.4"/>
<line x1="271.40" y1="219.00" x2="300.30" y2="208.10" stroke="#3d3d3d" stroke-width="0.4"/>
<text x="366.60" y="155.94" font-size="5.4" text-anchor="middle" font-weight="bold" fill="#111" stroke="#111" stroke-width="0" >CXCL10</text>
<path d="M366.30,159.35 L366.30,161.85 M367.38,159.97 L365.22,161.22 M367.38,161.22 L365.22,159.97 " stroke="#111" stroke-width="0.7" stroke-linecap="round"/>
<line x1="351.50" y1="163.30" x2="381.00" y2="163.30" stroke="#9a9a9a" stroke-width="0.8"/>
<line x1="333.50" y1="164.50" x2="333.50" y2="222.70" stroke="#b5b5b5" stroke-width="0.7"/>
<line x1="333.50" y1="222.70" x2="398.00" y2="222.70" stroke="#b5b5b5" stroke-width="0.7"/>
<line x1="331.90" y1="179.80" x2="333.50" y2="179.80" stroke="#555" stroke-width="0.5"/>
<text x="331.50" y="181.76" font-size="4.6" text-anchor="end" font-weight="normal" fill="#333" stroke="#333" stroke-width="0.08" >8192</text>
<line x1="331.90" y1="195.80" x2="333.50" y2="195.80" stroke="#555" stroke-width="0.5"/>
<text x="331.50" y="197.76" font-size="4.6" text-anchor="end" font-weight="normal" fill="#333" stroke="#333" stroke-width="0.08" >512</text>
<line x1="331.90" y1="211.00" x2="333.50" y2="211.00" stroke="#555" stroke-width="0.5"/>
<text x="331.50" y="212.96" font-size="4.6" text-anchor="end" font-weight="normal" fill="#333" stroke="#333" stroke-width="0.08" >32</text>
<path d="M359.30,194.20 C359.33,194.25 358.97,193.53 359.50,194.50 C360.03,195.47 361.50,198.05 362.50,200.00 C363.50,201.95 365.00,204.32 365.50,206.20 C366.00,208.08 365.97,209.67 365.50,211.30 C365.03,212.93 363.60,214.58 362.70,216.00 C361.80,217.42 360.60,219.02 360.10,219.80 C359.60,220.58 359.77,220.55 359.70,220.70 L344.10,220.70 C344.03,220.55 344.20,220.58 343.70,219.80 C343.20,219.02 342.00,217.42 341.10,216.00 C340.20,214.58 338.77,212.93 338.30,211.30 C337.83,209.67 337.80,208.08 338.30,206.20 C338.80,204.32 340.30,201.95 341.30,200.00 C342.30,198.05 343.77,195.47 344.30,194.50 C344.83,193.53 344.47,194.25 344.50,194.20 Z" fill="#f6c3d8" stroke="#8e6178" stroke-width="0.5" stroke-linejoin="round"/>
<path d="M383.60,166.00 C383.60,166.07 383.77,165.40 383.60,166.40 C383.43,167.40 382.60,170.40 382.60,172.00 C382.60,173.60 383.17,174.58 383.60,176.00 C384.03,177.42 384.40,179.00 385.20,180.50 C386.00,182.00 387.28,183.42 388.40,185.00 C389.52,186.58 390.87,188.18 391.90,190.00 C392.93,191.82 394.22,194.40 394.60,195.90 C394.98,197.40 394.57,197.87 394.20,199.00 C393.83,200.13 393.28,201.22 392.40,202.70 C391.52,204.18 390.13,206.47 388.90,207.90 C387.67,209.33 386.08,210.65 385.00,211.30 C383.92,211.95 382.83,211.72 382.40,211.80 L380.40,211.80 C379.97,211.72 378.88,211.95 377.80,211.30 C376.72,210.65 375.13,209.33 373.90,207.90 C372.67,206.47 371.28,204.18 370.40,202.70 C369.52,201.22 368.97,200.13 368.60,199.00 C368.23,197.87 367.82,197.40 368.20,195.90 C368.58,194.40 369.87,191.82 370.90,190.00 C371.93,188.18 373.28,186.58 374.40,185.00 C375.52,183.42 376.80,182.00 377.60,180.50 C378.40,179.00 378.77,177.42 379.20,176.00 C379.63,174.58 380.20,173.60 380.20,172.00 C380.20,170.40 379.37,167.40 379.20,166.40 C379.03,165.40 379.20,166.07 379.20,166.00 Z" fill="#dc8db4" stroke="#8e6178" stroke-width="0.5" stroke-linejoin="round"/>
<rect x="351.05" y="201.00" width="1.9" height="12.00" fill="#fff" fill-opacity="0.9" stroke="#777" stroke-width="0.35" />
<rect x="380.05" y="194.20" width="1.9" height="12.00" fill="#fff" fill-opacity="0.9" stroke="#777" stroke-width="0.35" />
<line x1="352.00" y1="194.50" x2="381.00" y2="167.50" stroke="#3d3d3d" stroke-width="0.4"/>
<line x1="352.00" y1="197.00" x2="381.00" y2="190.00" stroke="#3d3d3d" stroke-width="0.4"/>
<line x1="352.00" y1="199.50" x2="381.00" y2="185.00" stroke="#3d3d3d" stroke-width="0.4"/>
<line x1="352.00" y1="202.00" x2="381.00" y2="196.00" stroke="#3d3d3d" stroke-width="0.4"/>
<line x1="352.00" y1="204.00" x2="381.00" y2="193.00" stroke="#3d3d3d" stroke-width="0.4"/>
<line x1="352.00" y1="206.00" x2="381.00" y2="199.00" stroke="#3d3d3d" stroke-width="0.4"/>
<line x1="352.00" y1="208.00" x2="381.00" y2="201.00" stroke="#3d3d3d" stroke-width="0.4"/>
<line x1="352.00" y1="210.00" x2="381.00" y2="195.00" stroke="#3d3d3d" stroke-width="0.4"/>
<line x1="352.00" y1="212.00" x2="381.00" y2="204.00" stroke="#3d3d3d" stroke-width="0.4"/>
<line x1="352.00" y1="214.00" x2="381.00" y2="202.00" stroke="#3d3d3d" stroke-width="0.4"/>
<line x1="352.00" y1="216.00" x2="381.00" y2="207.00" stroke="#3d3d3d" stroke-width="0.4"/>
<line x1="352.00" y1="218.00" x2="381.00" y2="205.00" stroke="#3d3d3d" stroke-width="0.4"/>
<text x="397.10" y="160.18" font-size="4.95" text-anchor="start" font-weight="normal" fill="#222" stroke="#222" stroke-width="0.08" >Conditioned medium</text>
<rect x="397.40" y="163.30" width="6.70" height="7.00" fill="#f6c3d8" stroke="#8e6178" stroke-width="0.5" />
<text x="407.70" y="168.91" font-size="4.75" text-anchor="start" font-weight="normal" fill="#222" stroke="#222" stroke-width="0.08" >Adjacent</text>
<rect x="397.40" y="173.40" width="6.70" height="6.70" fill="#dc8db4" stroke="#8e6178" stroke-width="0.5" />
<text x="407.70" y="178.71" font-size="4.75" text-anchor="start" font-weight="normal" fill="#222" stroke="#222" stroke-width="0.08" >Tumor</text>
<text x="228.50" y="251.55" font-size="9.3" text-anchor="start" font-weight="bold" fill="#000" stroke="#000" stroke-width="0" >E</text>
<text x="285.50" y="249.64" font-size="5.4" text-anchor="middle" font-weight="bold" fill="#111" stroke="#111" stroke-width="0" >IL-1ra</text>
<text x="293.20" y="258.46" font-size="4.6" text-anchor="middle" font-weight="normal" fill="#222" stroke="#222" stroke-width="0.08" >ns</text>
<line x1="278.00" y1="260.00" x2="308.60" y2="260.00" stroke="#9a9a9a" stroke-width="0.8"/>
<text x="276.80" y="263.86" font-size="4.6" text-anchor="middle" font-weight="normal" fill="#222" stroke="#222" stroke-width="0.08" >ns</text>
<line x1="262.00" y1="265.50" x2="293.80" y2="265.50" stroke="#9a9a9a" stroke-width="0.8"/>
<line x1="252.80" y1="265.80" x2="252.80" y2="324.30" stroke="#b5b5b5" stroke-width="0.7"/>
<line x1="252.80" y1="324.30" x2="318.20" y2="324.30" stroke="#b5b5b5" stroke-width="0.7"/>
<line x1="251.20" y1="279.20" x2="252.80" y2="279.20" stroke="#555" stroke-width="0.5"/>
<text x="250.80" y="281.16" font-size="4.6" text-anchor="end" font-weight="normal" fill="#333" stroke="#333" stroke-width="0.08" >4096</text>
<line x1="251.20" y1="295.40" x2="252.80" y2="295.40" stroke="#555" stroke-width="0.5"/>
<text x="250.80" y="297.36" font-size="4.6" text-anchor="end" font-weight="normal" fill="#333" stroke="#333" stroke-width="0.08" >1024</text>
<line x1="251.20" y1="311.60" x2="252.80" y2="311.60" stroke="#555" stroke-width="0.5"/>
<text x="250.80" y="313.56" font-size="4.6" text-anchor="end" font-weight="normal" fill="#333" stroke="#333" stroke-width="0.08" >256</text>
<text transform="translate(236.00,292.60) rotate(-90)" x="0" y="0" font-size="4.7" text-anchor="middle" fill="#222">Concentration (pg/ml)</text>
<path d="M263.60,284.60 C263.63,284.70 263.82,284.77 263.80,285.20 C263.78,285.63 263.65,286.57 263.50,287.20 C263.35,287.83 263.00,287.87 262.90,289.00 C262.80,290.13 262.80,292.33 262.90,294.00 C263.00,295.67 263.27,297.50 263.50,299.00 C263.73,300.50 263.73,301.18 264.30,303.00 C264.87,304.82 266.13,307.90 266.90,309.90 C267.67,311.90 268.52,313.68 268.90,315.00 C269.28,316.32 269.40,316.87 269.20,317.80 C269.00,318.73 268.62,319.77 267.70,320.60 C266.78,321.43 264.37,322.43 263.70,322.80 L260.70,322.80 C260.03,322.43 257.62,321.43 256.70,320.60 C255.78,319.77 255.40,318.73 255.20,317.80 C255.00,316.87 255.12,316.32 255.50,315.00 C255.88,313.68 256.73,311.90 257.50,309.90 C258.27,307.90 259.53,304.82 260.10,303.00 C260.67,301.18 260.67,300.50 260.90,299.00 C261.13,297.50 261.40,295.67 261.50,294.00 C261.60,292.33 261.60,290.13 261.50,289.00 C261.40,287.87 261.05,287.83 260.90,287.20 C260.75,286.57 260.62,285.63 260.60,285.20 C260.58,284.77 260.77,284.70 260.80,284.60 Z" fill="#f6c3d8" stroke="#8e6178" stroke-width="0.5" stroke-linejoin="round"/>
<path d="M280.30,268.20 C280.50,268.33 281.17,267.95 281.50,269.00 C281.83,270.05 282.20,272.83 282.30,274.50 C282.40,276.17 282.33,277.42 282.10,279.00 C281.87,280.58 281.30,282.50 280.90,284.00 C280.50,285.50 280.08,286.50 279.70,288.00 C279.32,289.50 278.82,290.58 278.60,293.00 C278.38,295.42 278.33,300.50 278.40,302.50 C278.47,304.50 278.90,304.00 279.00,305.00 C279.10,306.00 279.13,307.63 279.00,308.50 C278.87,309.37 278.33,309.92 278.20,310.20 L277.20,310.20 C277.07,309.92 276.53,309.37 276.40,308.50 C276.27,307.63 276.30,306.00 276.40,305.00 C276.50,304.00 276.93,304.50 277.00,302.50 C277.07,300.50 277.02,295.42 276.80,293.00 C276.58,290.58 276.08,289.50 275.70,288.00 C275.32,286.50 274.90,285.50 274.50,284.00 C274.10,282.50 273.53,280.58 273.30,279.00 C273.07,277.42 273.00,276.17 273.10,274.50 C273.20,272.83 273.57,270.05 273.90,269.00 C274.23,267.95 274.90,268.33 275.10,268.20 Z" fill="#dc8db4" stroke="#8e6178" stroke-width="0.5" stroke-linejoin="round"/>
<path d="M295.80,294.00 C295.82,294.07 295.73,293.48 295.90,294.40 C296.07,295.32 296.38,297.75 296.80,299.50 C297.22,301.25 298.45,303.15 298.40,304.90 C298.35,306.65 297.00,308.18 296.50,310.00 C296.00,311.82 295.60,314.03 295.40,315.80 C295.20,317.57 295.35,319.73 295.30,320.60 C295.25,321.47 295.13,320.93 295.10,321.00 L291.10,321.00 C291.07,320.93 290.95,321.47 290.90,320.60 C290.85,319.73 291.00,317.57 290.80,315.80 C290.60,314.03 290.20,311.82 289.70,310.00 C289.20,308.18 287.85,306.65 287.80,304.90 C287.75,303.15 288.98,301.25 289.40,299.50 C289.82,297.75 290.13,295.32 290.30,294.40 C290.47,293.48 290.38,294.07 290.40,294.00 Z" fill="#f6c3d8" stroke="#8e6178" stroke-width="0.5" stroke-linejoin="round"/>
<path d="M315.50,272.60 C315.50,272.65 315.65,272.33 315.50,272.90 C315.35,273.47 314.87,275.08 314.60,276.00 C314.33,276.92 314.05,277.23 313.90,278.40 C313.75,279.57 313.75,281.87 313.70,283.00 C313.65,284.13 313.62,284.83 313.60,285.20 L304.20,285.20 C304.18,284.83 304.15,284.13 304.10,283.00 C304.05,281.87 304.05,279.57 303.90,278.40 C303.75,277.23 303.47,276.92 303.20,276.00 C302.93,275.08 302.45,273.47 302.30,272.90 C302.15,272.33 302.30,272.65 302.30,272.60 Z" fill="#dc8db4" stroke="#8e6178" stroke-width="0.5" stroke-linejoin="round"/>
<rect x="261.30" y="303" width="1.8" height="13.00" fill="#fff" fill-opacity="0.35" stroke="#7a7a7a" stroke-width="0.45" stroke-dasharray="0.6 0.6"/>
<circle cx="262.2" cy="309.50" r="0.55" fill="#777"/>
<rect x="276.80" y="274" width="1.8" height="10.00" fill="#fff" fill-opacity="0.35" stroke="#7a7a7a" stroke-width="0.45" stroke-dasharray="0.6 0.6"/>
<circle cx="277.7" cy="279.00" r="0.55" fill="#777"/>
<rect x="292.30" y="299" width="1.8" height="13.00" fill="#fff" fill-opacity="0.35" stroke="#7a7a7a" stroke-width="0.45" stroke-dasharray="0.6 0.6"/>
<circle cx="293.2" cy="305.50" r="0.55" fill="#777"/>
<rect x="307.90" y="274.5" width="1.8" height="8.00" fill="#fff" fill-opacity="0.35" stroke="#7a7a7a" stroke-width="0.45" stroke-dasharray="0.6 0.6"/>
<circle cx="308.8" cy="278.50" r="0.55" fill="#777"/>
<text x="270.30" y="331.33" font-size="4.8" text-anchor="middle" font-weight="normal" fill="#222" stroke="#222" stroke-width="0.08" >Down-</text>
<text x="270.30" y="337.03" font-size="4.8" text-anchor="middle" font-weight="normal" fill="#222" stroke="#222" stroke-width="0.08" >regulation</text>
<text x="270.30" y="342.73" font-size="4.8" text-anchor="middle" font-weight="normal" fill="#222" stroke="#222" stroke-width="0.08" >Cluster 1</text>
<line x1="270.30" y1="324.30" x2="270.30" y2="325.60" stroke="#555" stroke-width="0.5"/>
<text x="301.00" y="331.33" font-size="4.8" text-anchor="middle" font-weight="normal" fill="#222" stroke="#222" stroke-width="0.08" >Up-</text>
<text x="301.00" y="337.03" font-size="4.8" text-anchor="middle" font-weight="normal" fill="#222" stroke="#222" stroke-width="0.08" >regulation</text>
<text x="301.00" y="342.73" font-size="4.8" text-anchor="middle" font-weight="normal" fill="#222" stroke="#222" stroke-width="0.08" >Cluster 2</text>
<line x1="301.00" y1="324.30" x2="301.00" y2="325.60" stroke="#555" stroke-width="0.5"/>
<text x="365.80" y="250.14" font-size="5.4" text-anchor="middle" font-weight="bold" fill="#111" stroke="#111" stroke-width="0" >CXCL10</text>
<text x="374.00" y="258.66" font-size="4.6" text-anchor="middle" font-weight="normal" fill="#222" stroke="#222" stroke-width="0.08" >ns</text>
<line x1="360.00" y1="260.50" x2="389.10" y2="260.50" stroke="#9a9a9a" stroke-width="0.8"/>
<text x="357.60" y="264.46" font-size="4.6" text-anchor="middle" font-weight="normal" fill="#222" stroke="#222" stroke-width="0.08" >ns</text>
<line x1="342.00" y1="265.90" x2="374.20" y2="265.90" stroke="#9a9a9a" stroke-width="0.8"/>
<line x1="333.60" y1="266.80" x2="333.60" y2="324.00" stroke="#b5b5b5" stroke-width="0.7"/>
<line x1="333.60" y1="324.00" x2="398.50" y2="324.00" stroke="#b5b5b5" stroke-width="0.7"/>
<line x1="332.00" y1="281.70" x2="333.60" y2="281.70" stroke="#555" stroke-width="0.5"/>
<text x="331.60" y="283.66" font-size="4.6" text-anchor="end" font-weight="normal" fill="#333" stroke="#333" stroke-width="0.08" >8192</text>
<line x1="332.00" y1="297.10" x2="333.60" y2="297.10" stroke="#555" stroke-width="0.5"/>
<text x="331.60" y="299.06" font-size="4.6" text-anchor="end" font-weight="normal" fill="#333" stroke="#333" stroke-width="0.08" >512</text>
<line x1="332.00" y1="312.60" x2="333.60" y2="312.60" stroke="#555" stroke-width="0.5"/>
<text x="331.60" y="314.56" font-size="4.6" text-anchor="end" font-weight="normal" fill="#333" stroke="#333" stroke-width="0.08" >32</text>
<path d="M346.00,296.50 C346.05,296.58 346.22,296.08 346.30,297.00 C346.38,297.92 346.42,300.50 346.50,302.00 C346.58,303.50 346.48,304.42 346.80,306.00 C347.12,307.58 348.08,310.00 348.40,311.50 C348.72,313.00 348.82,313.83 348.70,315.00 C348.58,316.17 348.17,317.57 347.70,318.50 C347.23,319.43 346.43,320.18 345.90,320.60 C345.37,321.02 344.73,320.93 344.50,321.00 L341.30,321.00 C341.07,320.93 340.43,321.02 339.90,320.60 C339.37,320.18 338.57,319.43 338.10,318.50 C337.63,317.57 337.22,316.17 337.10,315.00 C336.98,313.83 337.08,313.00 337.40,311.50 C337.72,310.00 338.68,307.58 339.00,306.00 C339.32,304.42 339.22,303.50 339.30,302.00 C339.38,300.50 339.42,297.92 339.50,297.00 C339.58,296.08 339.75,296.58 339.80,296.50 Z" fill="#f6c3d8" stroke="#8e6178" stroke-width="0.5" stroke-linejoin="round"/>
<path d="M359.40,268.80 C359.50,268.90 359.92,268.95 360.00,269.40 C360.08,269.85 360.02,270.73 359.90,271.50 C359.78,272.27 359.33,272.83 359.30,274.00 C359.27,275.17 359.40,276.83 359.70,278.50 C360.00,280.17 360.57,282.08 361.10,284.00 C361.63,285.92 362.40,287.83 362.90,290.00 C363.40,292.17 364.07,295.17 364.10,297.00 C364.13,298.83 363.57,299.75 363.10,301.00 C362.63,302.25 361.75,303.17 361.30,304.50 C360.85,305.83 360.52,307.50 360.40,309.00 C360.28,310.50 360.67,312.53 360.60,313.50 C360.53,314.47 360.10,314.58 360.00,314.80 L357.00,314.80 C356.90,314.58 356.47,314.47 356.40,313.50 C356.33,312.53 356.72,310.50 356.60,309.00 C356.48,307.50 356.15,305.83 355.70,304.50 C355.25,303.17 354.37,302.25 353.90,301.00 C353.43,299.75 352.87,298.83 352.90,297.00 C352.93,295.17 353.60,292.17 354.10,290.00 C354.60,287.83 355.37,285.92 355.90,284.00 C356.43,282.08 357.00,280.17 357.30,278.50 C357.60,276.83 357.73,275.17 357.70,274.00 C357.67,272.83 357.22,272.27 357.10,271.50 C356.98,270.73 356.92,269.85 357.00,269.40 C357.08,268.95 357.50,268.90 357.60,268.80 Z" fill="#dc8db4" stroke="#8e6178" stroke-width="0.5" stroke-linejoin="round"/>
<path d="M376.80,298.30 C376.80,298.35 376.83,297.32 376.80,298.60 C376.77,299.88 376.65,303.55 376.60,306.00 C376.55,308.45 376.57,310.72 376.50,313.30 C376.43,315.88 376.27,320.03 376.20,321.50 C376.13,322.97 376.12,322.00 376.10,322.10 L371.10,322.10 C371.08,322.00 371.07,322.97 371.00,321.50 C370.93,320.03 370.77,315.88 370.70,313.30 C370.63,310.72 370.65,308.45 370.60,306.00 C370.55,303.55 370.43,299.88 370.40,298.60 C370.37,297.32 370.40,298.35 370.40,298.30 Z" fill="#f6c3d8" stroke="#8e6178" stroke-width="0.5" stroke-linejoin="round"/>
<path d="M395.40,301.00 C395.40,301.05 395.42,300.47 395.40,301.30 C395.38,302.13 395.40,304.72 395.30,306.00 C395.20,307.28 395.12,308.08 394.80,309.00 C394.48,309.92 393.95,310.87 393.40,311.50 C392.85,312.13 392.13,312.53 391.50,312.80 C390.87,313.07 389.92,313.05 389.60,313.10 L388.60,313.10 C388.28,313.05 387.33,313.07 386.70,312.80 C386.07,312.53 385.35,312.13 384.80,311.50 C384.25,310.87 383.72,309.92 383.40,309.00 C383.08,308.08 383.00,307.28 382.90,306.00 C382.80,304.72 382.82,302.13 382.80,301.30 C382.78,300.47 382.80,301.05 382.80,301.00 Z" fill="#dc8db4" stroke="#8e6178" stroke-width="0.5" stroke-linejoin="round"/>
<rect x="341.80" y="303.0" width="1.8" height="10.30" fill="#fff" fill-opacity="0.35" stroke="#7a7a7a" stroke-width="0.45" stroke-dasharray="0.6 0.6"/>
<circle cx="342.7" cy="308.15" r="0.55" fill="#777"/>
<rect x="357.70" y="287.8" width="1.8" height="11.60" fill="#fff" fill-opacity="0.35" stroke="#7a7a7a" stroke-width="0.45" stroke-dasharray="0.6 0.6"/>
<circle cx="358.6" cy="293.60" r="0.55" fill="#777"/>
<rect x="372.50" y="306.4" width="1.8" height="10.60" fill="#fff" fill-opacity="0.35" stroke="#7a7a7a" stroke-width="0.45" stroke-dasharray="0.6 0.6"/>
<circle cx="373.4" cy="311.70" r="0.55" fill="#777"/>
<rect x="388.00" y="301.5" width="1.8" height="8.50" fill="#fff" fill-opacity="0.35" stroke="#7a7a7a" stroke-width="0.45" stroke-dasharray="0.6 0.6"/>
<circle cx="388.9" cy="305.75" r="0.55" fill="#777"/>
<text x="350.20" y="331.33" font-size="4.8" text-anchor="middle" font-weight="normal" fill="#222" stroke="#222" stroke-width="0.08" >Down-</text>
<text x="350.20" y="337.03" font-size="4.8" text-anchor="middle" font-weight="normal" fill="#222" stroke="#222" stroke-width="0.08" >regulation</text>
<text x="350.20" y="342.73" font-size="4.8" text-anchor="middle" font-weight="normal" fill="#222" stroke="#222" stroke-width="0.08" >Cluster 1</text>
<line x1="350.20" y1="324.00" x2="350.20" y2="325.30" stroke="#555" stroke-width="0.5"/>
<text x="381.30" y="331.33" font-size="4.8" text-anchor="middle" font-weight="normal" fill="#222" stroke="#222" stroke-width="0.08" >Up-</text>
<text x="381.30" y="337.03" font-size="4.8" text-anchor="middle" font-weight="normal" fill="#222" stroke="#222" stroke-width="0.08" >regulation</text>
<text x="381.30" y="342.73" font-size="4.8" text-anchor="middle" font-weight="normal" fill="#222" stroke="#222" stroke-width="0.08" >Cluster 2</text>
<line x1="381.30" y1="324.00" x2="381.30" y2="325.30" stroke="#555" stroke-width="0.5"/>
<text x="397.10" y="260.68" font-size="4.95" text-anchor="start" font-weight="normal" fill="#222" stroke="#222" stroke-width="0.08" >Conditioned medium</text>
<rect x="397.10" y="264.60" width="6.40" height="6.00" fill="#f6c3d8" stroke="#8e6178" stroke-width="0.5" />
<text x="407.00" y="269.71" font-size="4.75" text-anchor="start" font-weight="normal" fill="#222" stroke="#222" stroke-width="0.08" >Adjacent</text>
<rect x="397.10" y="274.60" width="6.40" height="6.00" fill="#dc8db4" stroke="#8e6178" stroke-width="0.5" />
<text x="407.00" y="279.41" font-size="4.75" text-anchor="start" font-weight="normal" fill="#222" stroke="#222" stroke-width="0.08" >Tumor</text>
</svg>
</body></html>
